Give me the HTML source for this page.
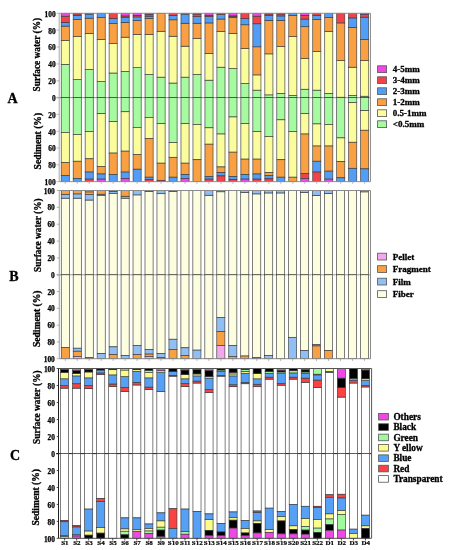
<!DOCTYPE html>
<html><head><meta charset="utf-8">
<style>
html,body{margin:0;padding:0;background:#fff;width:451px;height:550px;overflow:hidden}
svg{display:block;will-change:transform;filter:blur(0.3px)}
text{font-family:"Liberation Serif",serif;font-weight:bold;fill:#000;stroke:#000;stroke-width:0.3px}
.tk{font-size:7.4px;text-anchor:end;stroke-width:0.25px}
.at{font-size:9.35px;text-anchor:middle}
.at2{font-size:9.55px;text-anchor:middle}
.pl{font-size:14px;text-anchor:middle}
.xl{font-size:7px;text-anchor:middle;stroke-width:0.2px}
.lg{font-size:9px}
.lg3{font-size:9.3px}
</style></head><body>
<svg width="451" height="550" viewBox="0 0 451 550">
<rect width="451" height="550" fill="#ffffff"/>
<line x1="56.8" y1="97.65" x2="370.5" y2="97.65" stroke="#9a8a9a" stroke-width="1"/>
<rect x="61.2" y="64.33" width="8.1" height="33.32" fill="#a6faa0" stroke="#3a3a3a" stroke-width="0.65"/>
<rect x="61.2" y="40.46" width="8.1" height="23.87" fill="#fbfc9c" stroke="#3a3a3a" stroke-width="0.65"/>
<rect x="61.2" y="26.12" width="8.1" height="14.34" fill="#f9a142" stroke="#3a3a3a" stroke-width="0.65"/>
<rect x="61.2" y="22.33" width="8.1" height="3.8" fill="#529ef6" stroke="#3a3a3a" stroke-width="0.65"/>
<rect x="61.2" y="16.17" width="8.1" height="6.16" fill="#f4424a" stroke="#3a3a3a" stroke-width="0.65"/>
<rect x="61.2" y="13.3" width="8.1" height="2.87" fill="#f048e6" stroke="#3a3a3a" stroke-width="0.65"/>
<rect x="73.18" y="79.6" width="8.1" height="18.05" fill="#a6faa0" stroke="#3a3a3a" stroke-width="0.65"/>
<rect x="73.18" y="36.66" width="8.1" height="42.93" fill="#fbfc9c" stroke="#3a3a3a" stroke-width="0.65"/>
<rect x="73.18" y="19.46" width="8.1" height="17.21" fill="#f9a142" stroke="#3a3a3a" stroke-width="0.65"/>
<rect x="73.18" y="15.58" width="8.1" height="3.88" fill="#529ef6" stroke="#3a3a3a" stroke-width="0.65"/>
<rect x="73.18" y="13.89" width="8.1" height="1.69" fill="#f4424a" stroke="#3a3a3a" stroke-width="0.65"/>
<rect x="73.18" y="13.3" width="8.1" height="0.59" fill="#f048e6" stroke="#3a3a3a" stroke-width="0.65"/>
<rect x="85.16" y="69.48" width="8.1" height="28.17" fill="#a6faa0" stroke="#3a3a3a" stroke-width="0.65"/>
<rect x="85.16" y="33.38" width="8.1" height="36.1" fill="#fbfc9c" stroke="#3a3a3a" stroke-width="0.65"/>
<rect x="85.16" y="18.19" width="8.1" height="15.18" fill="#f9a142" stroke="#3a3a3a" stroke-width="0.65"/>
<rect x="85.16" y="14.06" width="8.1" height="4.13" fill="#529ef6" stroke="#3a3a3a" stroke-width="0.65"/>
<rect x="85.16" y="13.3" width="8.1" height="0.76" fill="#f4424a" stroke="#3a3a3a" stroke-width="0.65"/>
<rect x="97.13" y="81.54" width="8.1" height="16.11" fill="#a6faa0" stroke="#3a3a3a" stroke-width="0.65"/>
<rect x="97.13" y="39.53" width="8.1" height="42.01" fill="#fbfc9c" stroke="#3a3a3a" stroke-width="0.65"/>
<rect x="97.13" y="17.52" width="8.1" height="22.02" fill="#f9a142" stroke="#3a3a3a" stroke-width="0.65"/>
<rect x="97.13" y="13.3" width="8.1" height="4.22" fill="#529ef6" stroke="#3a3a3a" stroke-width="0.65"/>
<rect x="109.11" y="73.02" width="8.1" height="24.63" fill="#a6faa0" stroke="#3a3a3a" stroke-width="0.65"/>
<rect x="109.11" y="43.67" width="8.1" height="29.35" fill="#fbfc9c" stroke="#3a3a3a" stroke-width="0.65"/>
<rect x="109.11" y="23.59" width="8.1" height="20.08" fill="#f9a142" stroke="#3a3a3a" stroke-width="0.65"/>
<rect x="109.11" y="18.45" width="8.1" height="5.15" fill="#529ef6" stroke="#3a3a3a" stroke-width="0.65"/>
<rect x="109.11" y="13.3" width="8.1" height="5.15" fill="#f4424a" stroke="#3a3a3a" stroke-width="0.65"/>
<rect x="121.09" y="71.42" width="8.1" height="26.23" fill="#a6faa0" stroke="#3a3a3a" stroke-width="0.65"/>
<rect x="121.09" y="37.17" width="8.1" height="34.25" fill="#fbfc9c" stroke="#3a3a3a" stroke-width="0.65"/>
<rect x="121.09" y="22.33" width="8.1" height="14.85" fill="#f9a142" stroke="#3a3a3a" stroke-width="0.65"/>
<rect x="121.09" y="17.18" width="8.1" height="5.15" fill="#529ef6" stroke="#3a3a3a" stroke-width="0.65"/>
<rect x="121.09" y="15.91" width="8.1" height="1.27" fill="#f4424a" stroke="#3a3a3a" stroke-width="0.65"/>
<rect x="121.09" y="13.3" width="8.1" height="2.61" fill="#f048e6" stroke="#3a3a3a" stroke-width="0.65"/>
<rect x="133.07" y="67.62" width="8.1" height="30.03" fill="#a6faa0" stroke="#3a3a3a" stroke-width="0.65"/>
<rect x="133.07" y="34.39" width="8.1" height="33.23" fill="#fbfc9c" stroke="#3a3a3a" stroke-width="0.65"/>
<rect x="133.07" y="20.64" width="8.1" height="13.75" fill="#f9a142" stroke="#3a3a3a" stroke-width="0.65"/>
<rect x="133.07" y="16.93" width="8.1" height="3.71" fill="#529ef6" stroke="#3a3a3a" stroke-width="0.65"/>
<rect x="133.07" y="15.32" width="8.1" height="1.6" fill="#f4424a" stroke="#3a3a3a" stroke-width="0.65"/>
<rect x="133.07" y="13.3" width="8.1" height="2.02" fill="#f048e6" stroke="#3a3a3a" stroke-width="0.65"/>
<rect x="145.05" y="74.45" width="8.1" height="23.2" fill="#a6faa0" stroke="#3a3a3a" stroke-width="0.65"/>
<rect x="145.05" y="34.39" width="8.1" height="40.07" fill="#fbfc9c" stroke="#3a3a3a" stroke-width="0.65"/>
<rect x="145.05" y="18.36" width="8.1" height="16.03" fill="#f9a142" stroke="#3a3a3a" stroke-width="0.65"/>
<rect x="145.05" y="16.17" width="8.1" height="2.19" fill="#529ef6" stroke="#3a3a3a" stroke-width="0.65"/>
<rect x="145.05" y="14.31" width="8.1" height="1.86" fill="#f4424a" stroke="#3a3a3a" stroke-width="0.65"/>
<rect x="145.05" y="13.3" width="8.1" height="1.01" fill="#f048e6" stroke="#3a3a3a" stroke-width="0.65"/>
<rect x="157.02" y="77.15" width="8.1" height="20.5" fill="#a6faa0" stroke="#3a3a3a" stroke-width="0.65"/>
<rect x="157.02" y="31.27" width="8.1" height="45.89" fill="#fbfc9c" stroke="#3a3a3a" stroke-width="0.65"/>
<rect x="157.02" y="13.3" width="8.1" height="17.97" fill="#f9a142" stroke="#3a3a3a" stroke-width="0.65"/>
<rect x="169" y="83.06" width="8.1" height="14.59" fill="#a6faa0" stroke="#3a3a3a" stroke-width="0.65"/>
<rect x="169" y="36.24" width="8.1" height="46.81" fill="#fbfc9c" stroke="#3a3a3a" stroke-width="0.65"/>
<rect x="169" y="19.79" width="8.1" height="16.45" fill="#f9a142" stroke="#3a3a3a" stroke-width="0.65"/>
<rect x="169" y="15.41" width="8.1" height="4.39" fill="#529ef6" stroke="#3a3a3a" stroke-width="0.65"/>
<rect x="169" y="13.3" width="8.1" height="2.11" fill="#f4424a" stroke="#3a3a3a" stroke-width="0.65"/>
<rect x="180.98" y="77.15" width="8.1" height="20.5" fill="#a6faa0" stroke="#3a3a3a" stroke-width="0.65"/>
<rect x="180.98" y="46.2" width="8.1" height="30.96" fill="#fbfc9c" stroke="#3a3a3a" stroke-width="0.65"/>
<rect x="180.98" y="23.25" width="8.1" height="22.94" fill="#f9a142" stroke="#3a3a3a" stroke-width="0.65"/>
<rect x="180.98" y="14.06" width="8.1" height="9.19" fill="#529ef6" stroke="#3a3a3a" stroke-width="0.65"/>
<rect x="180.98" y="13.3" width="8.1" height="0.76" fill="#f4424a" stroke="#3a3a3a" stroke-width="0.65"/>
<rect x="192.96" y="74.45" width="8.1" height="23.2" fill="#a6faa0" stroke="#3a3a3a" stroke-width="0.65"/>
<rect x="192.96" y="38.6" width="8.1" height="35.85" fill="#fbfc9c" stroke="#3a3a3a" stroke-width="0.65"/>
<rect x="192.96" y="23.25" width="8.1" height="15.35" fill="#f9a142" stroke="#3a3a3a" stroke-width="0.65"/>
<rect x="192.96" y="16.59" width="8.1" height="6.66" fill="#529ef6" stroke="#3a3a3a" stroke-width="0.65"/>
<rect x="192.96" y="14.14" width="8.1" height="2.45" fill="#f4424a" stroke="#3a3a3a" stroke-width="0.65"/>
<rect x="192.96" y="13.3" width="8.1" height="0.84" fill="#f048e6" stroke="#3a3a3a" stroke-width="0.65"/>
<rect x="204.94" y="80.19" width="8.1" height="17.46" fill="#a6faa0" stroke="#3a3a3a" stroke-width="0.65"/>
<rect x="204.94" y="53.45" width="8.1" height="26.74" fill="#fbfc9c" stroke="#3a3a3a" stroke-width="0.65"/>
<rect x="204.94" y="22.92" width="8.1" height="30.53" fill="#f9a142" stroke="#3a3a3a" stroke-width="0.65"/>
<rect x="204.94" y="16.59" width="8.1" height="6.33" fill="#529ef6" stroke="#3a3a3a" stroke-width="0.65"/>
<rect x="204.94" y="15.24" width="8.1" height="1.35" fill="#f4424a" stroke="#3a3a3a" stroke-width="0.65"/>
<rect x="204.94" y="13.3" width="8.1" height="1.94" fill="#f048e6" stroke="#3a3a3a" stroke-width="0.65"/>
<rect x="216.91" y="67.2" width="8.1" height="30.45" fill="#a6faa0" stroke="#3a3a3a" stroke-width="0.65"/>
<rect x="216.91" y="31.52" width="8.1" height="35.68" fill="#fbfc9c" stroke="#3a3a3a" stroke-width="0.65"/>
<rect x="216.91" y="19.04" width="8.1" height="12.48" fill="#f9a142" stroke="#3a3a3a" stroke-width="0.65"/>
<rect x="216.91" y="14.65" width="8.1" height="4.39" fill="#529ef6" stroke="#3a3a3a" stroke-width="0.65"/>
<rect x="216.91" y="13.3" width="8.1" height="1.35" fill="#f4424a" stroke="#3a3a3a" stroke-width="0.65"/>
<rect x="228.89" y="68.55" width="8.1" height="29.1" fill="#a6faa0" stroke="#3a3a3a" stroke-width="0.65"/>
<rect x="228.89" y="33.38" width="8.1" height="35.17" fill="#fbfc9c" stroke="#3a3a3a" stroke-width="0.65"/>
<rect x="228.89" y="17.43" width="8.1" height="15.94" fill="#f9a142" stroke="#3a3a3a" stroke-width="0.65"/>
<rect x="228.89" y="16.34" width="8.1" height="1.1" fill="#529ef6" stroke="#3a3a3a" stroke-width="0.65"/>
<rect x="228.89" y="15.83" width="8.1" height="0.51" fill="#f4424a" stroke="#3a3a3a" stroke-width="0.65"/>
<rect x="228.89" y="13.3" width="8.1" height="2.53" fill="#f048e6" stroke="#3a3a3a" stroke-width="0.65"/>
<rect x="240.87" y="83.48" width="8.1" height="14.17" fill="#a6faa0" stroke="#3a3a3a" stroke-width="0.65"/>
<rect x="240.87" y="48.64" width="8.1" height="34.84" fill="#fbfc9c" stroke="#3a3a3a" stroke-width="0.65"/>
<rect x="240.87" y="24.77" width="8.1" height="23.87" fill="#f9a142" stroke="#3a3a3a" stroke-width="0.65"/>
<rect x="240.87" y="18.53" width="8.1" height="6.24" fill="#529ef6" stroke="#3a3a3a" stroke-width="0.65"/>
<rect x="240.87" y="13.3" width="8.1" height="5.23" fill="#f4424a" stroke="#3a3a3a" stroke-width="0.65"/>
<rect x="252.85" y="90.14" width="8.1" height="7.51" fill="#a6faa0" stroke="#3a3a3a" stroke-width="0.65"/>
<rect x="252.85" y="74.88" width="8.1" height="15.27" fill="#fbfc9c" stroke="#3a3a3a" stroke-width="0.65"/>
<rect x="252.85" y="46.79" width="8.1" height="28.09" fill="#f9a142" stroke="#3a3a3a" stroke-width="0.65"/>
<rect x="252.85" y="23.76" width="8.1" height="23.03" fill="#529ef6" stroke="#3a3a3a" stroke-width="0.65"/>
<rect x="252.85" y="16.17" width="8.1" height="7.59" fill="#f4424a" stroke="#3a3a3a" stroke-width="0.65"/>
<rect x="252.85" y="13.3" width="8.1" height="2.87" fill="#f048e6" stroke="#3a3a3a" stroke-width="0.65"/>
<rect x="264.83" y="94.87" width="8.1" height="2.78" fill="#a6faa0" stroke="#3a3a3a" stroke-width="0.65"/>
<rect x="264.83" y="53.87" width="8.1" height="40.99" fill="#fbfc9c" stroke="#3a3a3a" stroke-width="0.65"/>
<rect x="264.83" y="20.39" width="8.1" height="33.49" fill="#f9a142" stroke="#3a3a3a" stroke-width="0.65"/>
<rect x="264.83" y="15.66" width="8.1" height="4.72" fill="#529ef6" stroke="#3a3a3a" stroke-width="0.65"/>
<rect x="264.83" y="13.97" width="8.1" height="1.69" fill="#f4424a" stroke="#3a3a3a" stroke-width="0.65"/>
<rect x="264.83" y="13.3" width="8.1" height="0.67" fill="#f048e6" stroke="#3a3a3a" stroke-width="0.65"/>
<rect x="276.8" y="93.35" width="8.1" height="4.3" fill="#a6faa0" stroke="#3a3a3a" stroke-width="0.65"/>
<rect x="276.8" y="46.62" width="8.1" height="46.73" fill="#fbfc9c" stroke="#3a3a3a" stroke-width="0.65"/>
<rect x="276.8" y="20.39" width="8.1" height="26.23" fill="#f9a142" stroke="#3a3a3a" stroke-width="0.65"/>
<rect x="276.8" y="15.91" width="8.1" height="4.47" fill="#529ef6" stroke="#3a3a3a" stroke-width="0.65"/>
<rect x="276.8" y="13.97" width="8.1" height="1.94" fill="#f4424a" stroke="#3a3a3a" stroke-width="0.65"/>
<rect x="276.8" y="13.3" width="8.1" height="0.67" fill="#f048e6" stroke="#3a3a3a" stroke-width="0.65"/>
<rect x="288.78" y="95.46" width="8.1" height="2.19" fill="#a6faa0" stroke="#3a3a3a" stroke-width="0.65"/>
<rect x="288.78" y="36.66" width="8.1" height="58.79" fill="#fbfc9c" stroke="#3a3a3a" stroke-width="0.65"/>
<rect x="288.78" y="15.41" width="8.1" height="21.26" fill="#f9a142" stroke="#3a3a3a" stroke-width="0.65"/>
<rect x="288.78" y="13.3" width="8.1" height="2.11" fill="#529ef6" stroke="#3a3a3a" stroke-width="0.65"/>
<rect x="300.76" y="89.22" width="8.1" height="8.44" fill="#a6faa0" stroke="#3a3a3a" stroke-width="0.65"/>
<rect x="300.76" y="58.6" width="8.1" height="30.62" fill="#fbfc9c" stroke="#3a3a3a" stroke-width="0.65"/>
<rect x="300.76" y="26.71" width="8.1" height="31.88" fill="#f9a142" stroke="#3a3a3a" stroke-width="0.65"/>
<rect x="300.76" y="19.04" width="8.1" height="7.68" fill="#529ef6" stroke="#3a3a3a" stroke-width="0.65"/>
<rect x="300.76" y="15.41" width="8.1" height="3.63" fill="#f4424a" stroke="#3a3a3a" stroke-width="0.65"/>
<rect x="300.76" y="13.3" width="8.1" height="2.11" fill="#f048e6" stroke="#3a3a3a" stroke-width="0.65"/>
<rect x="312.74" y="90.14" width="8.1" height="7.51" fill="#a6faa0" stroke="#3a3a3a" stroke-width="0.65"/>
<rect x="312.74" y="51.51" width="8.1" height="38.63" fill="#fbfc9c" stroke="#3a3a3a" stroke-width="0.65"/>
<rect x="312.74" y="19.46" width="8.1" height="32.05" fill="#f9a142" stroke="#3a3a3a" stroke-width="0.65"/>
<rect x="312.74" y="15.24" width="8.1" height="4.22" fill="#529ef6" stroke="#3a3a3a" stroke-width="0.65"/>
<rect x="312.74" y="13.3" width="8.1" height="1.94" fill="#f4424a" stroke="#3a3a3a" stroke-width="0.65"/>
<rect x="324.72" y="93.35" width="8.1" height="4.3" fill="#a6faa0" stroke="#3a3a3a" stroke-width="0.65"/>
<rect x="324.72" y="31.27" width="8.1" height="62.08" fill="#fbfc9c" stroke="#3a3a3a" stroke-width="0.65"/>
<rect x="324.72" y="17.52" width="8.1" height="13.75" fill="#f9a142" stroke="#3a3a3a" stroke-width="0.65"/>
<rect x="324.72" y="13.3" width="8.1" height="4.22" fill="#529ef6" stroke="#3a3a3a" stroke-width="0.65"/>
<rect x="336.69" y="97.23" width="8.1" height="0.42" fill="#a6faa0" stroke="#3a3a3a" stroke-width="0.65"/>
<rect x="336.69" y="60.54" width="8.1" height="36.69" fill="#fbfc9c" stroke="#3a3a3a" stroke-width="0.65"/>
<rect x="336.69" y="22.92" width="8.1" height="37.62" fill="#f9a142" stroke="#3a3a3a" stroke-width="0.65"/>
<rect x="336.69" y="13.3" width="8.1" height="9.62" fill="#f4424a" stroke="#3a3a3a" stroke-width="0.65"/>
<rect x="348.67" y="95.46" width="8.1" height="2.19" fill="#a6faa0" stroke="#3a3a3a" stroke-width="0.65"/>
<rect x="348.67" y="67.2" width="8.1" height="28.26" fill="#fbfc9c" stroke="#3a3a3a" stroke-width="0.65"/>
<rect x="348.67" y="27.47" width="8.1" height="39.73" fill="#f9a142" stroke="#3a3a3a" stroke-width="0.65"/>
<rect x="348.67" y="17.94" width="8.1" height="9.53" fill="#529ef6" stroke="#3a3a3a" stroke-width="0.65"/>
<rect x="348.67" y="13.3" width="8.1" height="4.64" fill="#f4424a" stroke="#3a3a3a" stroke-width="0.65"/>
<rect x="360.65" y="96.22" width="8.1" height="1.43" fill="#a6faa0" stroke="#3a3a3a" stroke-width="0.65"/>
<rect x="360.65" y="60.54" width="8.1" height="35.68" fill="#fbfc9c" stroke="#3a3a3a" stroke-width="0.65"/>
<rect x="360.65" y="39.53" width="8.1" height="21" fill="#f9a142" stroke="#3a3a3a" stroke-width="0.65"/>
<rect x="360.65" y="17.18" width="8.1" height="22.35" fill="#529ef6" stroke="#3a3a3a" stroke-width="0.65"/>
<rect x="360.65" y="14.65" width="8.1" height="2.53" fill="#f4424a" stroke="#3a3a3a" stroke-width="0.65"/>
<rect x="360.65" y="13.3" width="8.1" height="1.35" fill="#f048e6" stroke="#3a3a3a" stroke-width="0.65"/>
<rect x="61.2" y="97.65" width="8.1" height="34.86" fill="#a6faa0" stroke="#3a3a3a" stroke-width="0.65"/>
<rect x="61.2" y="132.51" width="8.1" height="30.07" fill="#fbfc9c" stroke="#3a3a3a" stroke-width="0.65"/>
<rect x="61.2" y="162.58" width="8.1" height="12.77" fill="#f9a142" stroke="#3a3a3a" stroke-width="0.65"/>
<rect x="61.2" y="175.35" width="8.1" height="6.3" fill="#529ef6" stroke="#3a3a3a" stroke-width="0.65"/>
<rect x="73.18" y="97.65" width="8.1" height="36.96" fill="#a6faa0" stroke="#3a3a3a" stroke-width="0.65"/>
<rect x="73.18" y="134.61" width="8.1" height="26.63" fill="#fbfc9c" stroke="#3a3a3a" stroke-width="0.65"/>
<rect x="73.18" y="161.24" width="8.1" height="17.14" fill="#f9a142" stroke="#3a3a3a" stroke-width="0.65"/>
<rect x="73.18" y="178.37" width="8.1" height="3.28" fill="#529ef6" stroke="#3a3a3a" stroke-width="0.65"/>
<rect x="85.16" y="97.65" width="8.1" height="33.94" fill="#a6faa0" stroke="#3a3a3a" stroke-width="0.65"/>
<rect x="85.16" y="131.59" width="8.1" height="27.22" fill="#fbfc9c" stroke="#3a3a3a" stroke-width="0.65"/>
<rect x="85.16" y="158.8" width="8.1" height="13.27" fill="#f9a142" stroke="#3a3a3a" stroke-width="0.65"/>
<rect x="85.16" y="172.07" width="8.1" height="7.06" fill="#529ef6" stroke="#3a3a3a" stroke-width="0.65"/>
<rect x="85.16" y="179.13" width="8.1" height="2.52" fill="#f4424a" stroke="#3a3a3a" stroke-width="0.65"/>
<rect x="97.13" y="97.65" width="8.1" height="16.04" fill="#a6faa0" stroke="#3a3a3a" stroke-width="0.65"/>
<rect x="97.13" y="113.69" width="8.1" height="52.67" fill="#fbfc9c" stroke="#3a3a3a" stroke-width="0.65"/>
<rect x="97.13" y="166.36" width="8.1" height="7.64" fill="#f9a142" stroke="#3a3a3a" stroke-width="0.65"/>
<rect x="97.13" y="174.01" width="8.1" height="5.12" fill="#529ef6" stroke="#3a3a3a" stroke-width="0.65"/>
<rect x="97.13" y="179.13" width="8.1" height="2.52" fill="#f048e6" stroke="#3a3a3a" stroke-width="0.65"/>
<rect x="109.11" y="97.65" width="8.1" height="24.02" fill="#a6faa0" stroke="#3a3a3a" stroke-width="0.65"/>
<rect x="109.11" y="121.67" width="8.1" height="31.42" fill="#fbfc9c" stroke="#3a3a3a" stroke-width="0.65"/>
<rect x="109.11" y="153.09" width="8.1" height="21.5" fill="#f9a142" stroke="#3a3a3a" stroke-width="0.65"/>
<rect x="109.11" y="174.59" width="8.1" height="7.06" fill="#529ef6" stroke="#3a3a3a" stroke-width="0.65"/>
<rect x="121.09" y="97.65" width="8.1" height="14.11" fill="#a6faa0" stroke="#3a3a3a" stroke-width="0.65"/>
<rect x="121.09" y="111.76" width="8.1" height="39.4" fill="#fbfc9c" stroke="#3a3a3a" stroke-width="0.65"/>
<rect x="121.09" y="151.16" width="8.1" height="20.92" fill="#f9a142" stroke="#3a3a3a" stroke-width="0.65"/>
<rect x="121.09" y="172.07" width="8.1" height="6.3" fill="#529ef6" stroke="#3a3a3a" stroke-width="0.65"/>
<rect x="121.09" y="178.37" width="8.1" height="3.28" fill="#f048e6" stroke="#3a3a3a" stroke-width="0.65"/>
<rect x="133.07" y="97.65" width="8.1" height="29.74" fill="#a6faa0" stroke="#3a3a3a" stroke-width="0.65"/>
<rect x="133.07" y="127.39" width="8.1" height="27.05" fill="#fbfc9c" stroke="#3a3a3a" stroke-width="0.65"/>
<rect x="133.07" y="154.43" width="8.1" height="14.78" fill="#f9a142" stroke="#3a3a3a" stroke-width="0.65"/>
<rect x="133.07" y="169.22" width="8.1" height="12.43" fill="#529ef6" stroke="#3a3a3a" stroke-width="0.65"/>
<rect x="145.05" y="97.65" width="8.1" height="19.82" fill="#a6faa0" stroke="#3a3a3a" stroke-width="0.65"/>
<rect x="145.05" y="117.47" width="8.1" height="21" fill="#fbfc9c" stroke="#3a3a3a" stroke-width="0.65"/>
<rect x="145.05" y="138.47" width="8.1" height="38.72" fill="#f9a142" stroke="#3a3a3a" stroke-width="0.65"/>
<rect x="145.05" y="177.2" width="8.1" height="2.52" fill="#529ef6" stroke="#3a3a3a" stroke-width="0.65"/>
<rect x="145.05" y="179.72" width="8.1" height="1.93" fill="#f4424a" stroke="#3a3a3a" stroke-width="0.65"/>
<rect x="157.02" y="97.65" width="8.1" height="25.96" fill="#a6faa0" stroke="#3a3a3a" stroke-width="0.65"/>
<rect x="157.02" y="123.61" width="8.1" height="39.56" fill="#fbfc9c" stroke="#3a3a3a" stroke-width="0.65"/>
<rect x="157.02" y="163.17" width="8.1" height="17.14" fill="#f9a142" stroke="#3a3a3a" stroke-width="0.65"/>
<rect x="157.02" y="180.31" width="8.1" height="1.34" fill="#f4424a" stroke="#3a3a3a" stroke-width="0.65"/>
<rect x="169" y="97.65" width="8.1" height="44.94" fill="#a6faa0" stroke="#3a3a3a" stroke-width="0.65"/>
<rect x="169" y="142.59" width="8.1" height="14.7" fill="#fbfc9c" stroke="#3a3a3a" stroke-width="0.65"/>
<rect x="169" y="157.29" width="8.1" height="19.91" fill="#f9a142" stroke="#3a3a3a" stroke-width="0.65"/>
<rect x="169" y="177.2" width="8.1" height="4.45" fill="#529ef6" stroke="#3a3a3a" stroke-width="0.65"/>
<rect x="180.98" y="97.65" width="8.1" height="25.96" fill="#a6faa0" stroke="#3a3a3a" stroke-width="0.65"/>
<rect x="180.98" y="123.61" width="8.1" height="39.56" fill="#fbfc9c" stroke="#3a3a3a" stroke-width="0.65"/>
<rect x="180.98" y="163.17" width="8.1" height="11.42" fill="#f9a142" stroke="#3a3a3a" stroke-width="0.65"/>
<rect x="180.98" y="174.59" width="8.1" height="3.78" fill="#529ef6" stroke="#3a3a3a" stroke-width="0.65"/>
<rect x="180.98" y="178.37" width="8.1" height="3.28" fill="#f048e6" stroke="#3a3a3a" stroke-width="0.65"/>
<rect x="192.96" y="97.65" width="8.1" height="26.88" fill="#a6faa0" stroke="#3a3a3a" stroke-width="0.65"/>
<rect x="192.96" y="124.53" width="8.1" height="35.2" fill="#fbfc9c" stroke="#3a3a3a" stroke-width="0.65"/>
<rect x="192.96" y="159.73" width="8.1" height="21.92" fill="#f9a142" stroke="#3a3a3a" stroke-width="0.65"/>
<rect x="204.94" y="97.65" width="8.1" height="30.16" fill="#a6faa0" stroke="#3a3a3a" stroke-width="0.65"/>
<rect x="204.94" y="127.81" width="8.1" height="16.38" fill="#fbfc9c" stroke="#3a3a3a" stroke-width="0.65"/>
<rect x="204.94" y="144.19" width="8.1" height="32.26" fill="#f9a142" stroke="#3a3a3a" stroke-width="0.65"/>
<rect x="204.94" y="176.44" width="8.1" height="2.69" fill="#529ef6" stroke="#3a3a3a" stroke-width="0.65"/>
<rect x="204.94" y="179.13" width="8.1" height="2.52" fill="#f4424a" stroke="#3a3a3a" stroke-width="0.65"/>
<rect x="216.91" y="97.65" width="8.1" height="36.37" fill="#a6faa0" stroke="#3a3a3a" stroke-width="0.65"/>
<rect x="216.91" y="134.02" width="8.1" height="32.93" fill="#fbfc9c" stroke="#3a3a3a" stroke-width="0.65"/>
<rect x="216.91" y="166.95" width="8.1" height="5.71" fill="#f9a142" stroke="#3a3a3a" stroke-width="0.65"/>
<rect x="216.91" y="172.66" width="8.1" height="3.28" fill="#529ef6" stroke="#3a3a3a" stroke-width="0.65"/>
<rect x="216.91" y="175.94" width="8.1" height="5.71" fill="#f4424a" stroke="#3a3a3a" stroke-width="0.65"/>
<rect x="228.89" y="97.65" width="8.1" height="19.32" fill="#a6faa0" stroke="#3a3a3a" stroke-width="0.65"/>
<rect x="228.89" y="116.97" width="8.1" height="35.2" fill="#fbfc9c" stroke="#3a3a3a" stroke-width="0.65"/>
<rect x="228.89" y="152.17" width="8.1" height="24.28" fill="#f9a142" stroke="#3a3a3a" stroke-width="0.65"/>
<rect x="228.89" y="176.44" width="8.1" height="3.28" fill="#529ef6" stroke="#3a3a3a" stroke-width="0.65"/>
<rect x="228.89" y="179.72" width="8.1" height="1.93" fill="#f4424a" stroke="#3a3a3a" stroke-width="0.65"/>
<rect x="240.87" y="97.65" width="8.1" height="25.96" fill="#a6faa0" stroke="#3a3a3a" stroke-width="0.65"/>
<rect x="240.87" y="123.61" width="8.1" height="35.53" fill="#fbfc9c" stroke="#3a3a3a" stroke-width="0.65"/>
<rect x="240.87" y="159.14" width="8.1" height="15.46" fill="#f9a142" stroke="#3a3a3a" stroke-width="0.65"/>
<rect x="240.87" y="174.59" width="8.1" height="4.54" fill="#529ef6" stroke="#3a3a3a" stroke-width="0.65"/>
<rect x="240.87" y="179.13" width="8.1" height="2.52" fill="#f048e6" stroke="#3a3a3a" stroke-width="0.65"/>
<rect x="252.85" y="97.65" width="8.1" height="33.94" fill="#a6faa0" stroke="#3a3a3a" stroke-width="0.65"/>
<rect x="252.85" y="131.59" width="8.1" height="27.55" fill="#fbfc9c" stroke="#3a3a3a" stroke-width="0.65"/>
<rect x="252.85" y="159.14" width="8.1" height="14.87" fill="#f9a142" stroke="#3a3a3a" stroke-width="0.65"/>
<rect x="252.85" y="174.01" width="8.1" height="5.12" fill="#529ef6" stroke="#3a3a3a" stroke-width="0.65"/>
<rect x="252.85" y="179.13" width="8.1" height="2.52" fill="#f4424a" stroke="#3a3a3a" stroke-width="0.65"/>
<rect x="264.83" y="97.65" width="8.1" height="38.89" fill="#a6faa0" stroke="#3a3a3a" stroke-width="0.65"/>
<rect x="264.83" y="136.54" width="8.1" height="36.12" fill="#fbfc9c" stroke="#3a3a3a" stroke-width="0.65"/>
<rect x="264.83" y="172.66" width="8.1" height="2.69" fill="#f9a142" stroke="#3a3a3a" stroke-width="0.65"/>
<rect x="264.83" y="175.35" width="8.1" height="3.44" fill="#529ef6" stroke="#3a3a3a" stroke-width="0.65"/>
<rect x="264.83" y="178.79" width="8.1" height="2.86" fill="#f4424a" stroke="#3a3a3a" stroke-width="0.65"/>
<rect x="276.8" y="97.65" width="8.1" height="22.18" fill="#a6faa0" stroke="#3a3a3a" stroke-width="0.65"/>
<rect x="276.8" y="119.83" width="8.1" height="39.9" fill="#fbfc9c" stroke="#3a3a3a" stroke-width="0.65"/>
<rect x="276.8" y="159.73" width="8.1" height="17.47" fill="#f9a142" stroke="#3a3a3a" stroke-width="0.65"/>
<rect x="276.8" y="177.2" width="8.1" height="4.45" fill="#529ef6" stroke="#3a3a3a" stroke-width="0.65"/>
<rect x="288.78" y="97.65" width="8.1" height="33.94" fill="#a6faa0" stroke="#3a3a3a" stroke-width="0.65"/>
<rect x="288.78" y="131.59" width="8.1" height="45.61" fill="#fbfc9c" stroke="#3a3a3a" stroke-width="0.65"/>
<rect x="288.78" y="177.2" width="8.1" height="4.45" fill="#f9a142" stroke="#3a3a3a" stroke-width="0.65"/>
<rect x="300.76" y="97.65" width="8.1" height="16.04" fill="#a6faa0" stroke="#3a3a3a" stroke-width="0.65"/>
<rect x="300.76" y="113.69" width="8.1" height="20.33" fill="#fbfc9c" stroke="#3a3a3a" stroke-width="0.65"/>
<rect x="300.76" y="134.02" width="8.1" height="39.4" fill="#f9a142" stroke="#3a3a3a" stroke-width="0.65"/>
<rect x="300.76" y="173.42" width="8.1" height="4.96" fill="#f4424a" stroke="#3a3a3a" stroke-width="0.65"/>
<rect x="300.76" y="178.37" width="8.1" height="3.28" fill="#f048e6" stroke="#3a3a3a" stroke-width="0.65"/>
<rect x="312.74" y="97.65" width="8.1" height="26.29" fill="#a6faa0" stroke="#3a3a3a" stroke-width="0.65"/>
<rect x="312.74" y="123.94" width="8.1" height="22.09" fill="#fbfc9c" stroke="#3a3a3a" stroke-width="0.65"/>
<rect x="312.74" y="146.03" width="8.1" height="15.2" fill="#f9a142" stroke="#3a3a3a" stroke-width="0.65"/>
<rect x="312.74" y="161.24" width="8.1" height="10.84" fill="#529ef6" stroke="#3a3a3a" stroke-width="0.65"/>
<rect x="312.74" y="172.07" width="8.1" height="9.58" fill="#f4424a" stroke="#3a3a3a" stroke-width="0.65"/>
<rect x="324.72" y="97.65" width="8.1" height="26.88" fill="#a6faa0" stroke="#3a3a3a" stroke-width="0.65"/>
<rect x="324.72" y="124.53" width="8.1" height="21.5" fill="#fbfc9c" stroke="#3a3a3a" stroke-width="0.65"/>
<rect x="324.72" y="146.03" width="8.1" height="25.12" fill="#f9a142" stroke="#3a3a3a" stroke-width="0.65"/>
<rect x="324.72" y="171.15" width="8.1" height="7.98" fill="#529ef6" stroke="#3a3a3a" stroke-width="0.65"/>
<rect x="324.72" y="179.13" width="8.1" height="2.52" fill="#f048e6" stroke="#3a3a3a" stroke-width="0.65"/>
<rect x="336.69" y="97.65" width="8.1" height="40.24" fill="#a6faa0" stroke="#3a3a3a" stroke-width="0.65"/>
<rect x="336.69" y="137.89" width="8.1" height="23.77" fill="#fbfc9c" stroke="#3a3a3a" stroke-width="0.65"/>
<rect x="336.69" y="161.66" width="8.1" height="16.13" fill="#f9a142" stroke="#3a3a3a" stroke-width="0.65"/>
<rect x="336.69" y="177.79" width="8.1" height="3.86" fill="#529ef6" stroke="#3a3a3a" stroke-width="0.65"/>
<rect x="348.67" y="97.65" width="8.1" height="5.04" fill="#a6faa0" stroke="#3a3a3a" stroke-width="0.65"/>
<rect x="348.67" y="102.69" width="8.1" height="39.56" fill="#fbfc9c" stroke="#3a3a3a" stroke-width="0.65"/>
<rect x="348.67" y="142.25" width="8.1" height="26.04" fill="#f9a142" stroke="#3a3a3a" stroke-width="0.65"/>
<rect x="348.67" y="168.29" width="8.1" height="13.36" fill="#529ef6" stroke="#3a3a3a" stroke-width="0.65"/>
<rect x="360.65" y="97.65" width="8.1" height="13.02" fill="#a6faa0" stroke="#3a3a3a" stroke-width="0.65"/>
<rect x="360.65" y="110.67" width="8.1" height="19.57" fill="#fbfc9c" stroke="#3a3a3a" stroke-width="0.65"/>
<rect x="360.65" y="130.24" width="8.1" height="38.64" fill="#f9a142" stroke="#3a3a3a" stroke-width="0.65"/>
<rect x="360.65" y="168.88" width="8.1" height="12.77" fill="#529ef6" stroke="#3a3a3a" stroke-width="0.65"/>
<path d="M59.2 13.3H370.5V181.65H59.2" fill="none" stroke="#909090" stroke-width="1"/>
<line x1="59.2" y1="13.3" x2="59.2" y2="181.65" stroke="#a8a8a8" stroke-width="1"/>
<line x1="56.6" y1="97.65" x2="59.2" y2="97.65" stroke="#a8a8a8" stroke-width="0.8"/>
<line x1="56.6" y1="97.65" x2="59.2" y2="97.65" stroke="#a8a8a8" stroke-width="0.8"/>
<line x1="56.6" y1="80.78" x2="59.2" y2="80.78" stroke="#a8a8a8" stroke-width="0.8"/>
<line x1="56.6" y1="114.45" x2="59.2" y2="114.45" stroke="#a8a8a8" stroke-width="0.8"/>
<line x1="56.6" y1="63.91" x2="59.2" y2="63.91" stroke="#a8a8a8" stroke-width="0.8"/>
<line x1="56.6" y1="131.25" x2="59.2" y2="131.25" stroke="#a8a8a8" stroke-width="0.8"/>
<line x1="56.6" y1="47.04" x2="59.2" y2="47.04" stroke="#a8a8a8" stroke-width="0.8"/>
<line x1="56.6" y1="148.05" x2="59.2" y2="148.05" stroke="#a8a8a8" stroke-width="0.8"/>
<line x1="56.6" y1="30.17" x2="59.2" y2="30.17" stroke="#a8a8a8" stroke-width="0.8"/>
<line x1="56.6" y1="164.85" x2="59.2" y2="164.85" stroke="#a8a8a8" stroke-width="0.8"/>
<line x1="56.6" y1="13.3" x2="59.2" y2="13.3" stroke="#a8a8a8" stroke-width="0.8"/>
<line x1="56.6" y1="181.65" x2="59.2" y2="181.65" stroke="#a8a8a8" stroke-width="0.8"/>
<text x="55.6" y="101.05" class="tk">0</text>
<text x="55.6" y="84.18" class="tk">20</text>
<text x="55.6" y="117.85" class="tk">20</text>
<text x="55.6" y="67.31" class="tk">40</text>
<text x="55.6" y="134.65" class="tk">40</text>
<text x="55.6" y="50.44" class="tk">60</text>
<text x="55.6" y="151.45" class="tk">60</text>
<text x="55.6" y="33.57" class="tk">80</text>
<text x="55.6" y="168.25" class="tk">80</text>
<text x="55.6" y="16.7" class="tk">100</text>
<text x="55.6" y="185.05" class="tk">100</text>
<line x1="65.25" y1="181.65" x2="65.25" y2="183.85" stroke="#a8a8a8" stroke-width="0.8"/>
<line x1="77.23" y1="181.65" x2="77.23" y2="183.85" stroke="#a8a8a8" stroke-width="0.8"/>
<line x1="89.21" y1="181.65" x2="89.21" y2="183.85" stroke="#a8a8a8" stroke-width="0.8"/>
<line x1="101.18" y1="181.65" x2="101.18" y2="183.85" stroke="#a8a8a8" stroke-width="0.8"/>
<line x1="113.16" y1="181.65" x2="113.16" y2="183.85" stroke="#a8a8a8" stroke-width="0.8"/>
<line x1="125.14" y1="181.65" x2="125.14" y2="183.85" stroke="#a8a8a8" stroke-width="0.8"/>
<line x1="137.12" y1="181.65" x2="137.12" y2="183.85" stroke="#a8a8a8" stroke-width="0.8"/>
<line x1="149.1" y1="181.65" x2="149.1" y2="183.85" stroke="#a8a8a8" stroke-width="0.8"/>
<line x1="161.07" y1="181.65" x2="161.07" y2="183.85" stroke="#a8a8a8" stroke-width="0.8"/>
<line x1="173.05" y1="181.65" x2="173.05" y2="183.85" stroke="#a8a8a8" stroke-width="0.8"/>
<line x1="185.03" y1="181.65" x2="185.03" y2="183.85" stroke="#a8a8a8" stroke-width="0.8"/>
<line x1="197.01" y1="181.65" x2="197.01" y2="183.85" stroke="#a8a8a8" stroke-width="0.8"/>
<line x1="208.99" y1="181.65" x2="208.99" y2="183.85" stroke="#a8a8a8" stroke-width="0.8"/>
<line x1="220.96" y1="181.65" x2="220.96" y2="183.85" stroke="#a8a8a8" stroke-width="0.8"/>
<line x1="232.94" y1="181.65" x2="232.94" y2="183.85" stroke="#a8a8a8" stroke-width="0.8"/>
<line x1="244.92" y1="181.65" x2="244.92" y2="183.85" stroke="#a8a8a8" stroke-width="0.8"/>
<line x1="256.9" y1="181.65" x2="256.9" y2="183.85" stroke="#a8a8a8" stroke-width="0.8"/>
<line x1="268.88" y1="181.65" x2="268.88" y2="183.85" stroke="#a8a8a8" stroke-width="0.8"/>
<line x1="280.85" y1="181.65" x2="280.85" y2="183.85" stroke="#a8a8a8" stroke-width="0.8"/>
<line x1="292.83" y1="181.65" x2="292.83" y2="183.85" stroke="#a8a8a8" stroke-width="0.8"/>
<line x1="304.81" y1="181.65" x2="304.81" y2="183.85" stroke="#a8a8a8" stroke-width="0.8"/>
<line x1="316.79" y1="181.65" x2="316.79" y2="183.85" stroke="#a8a8a8" stroke-width="0.8"/>
<line x1="328.77" y1="181.65" x2="328.77" y2="183.85" stroke="#a8a8a8" stroke-width="0.8"/>
<line x1="340.74" y1="181.65" x2="340.74" y2="183.85" stroke="#a8a8a8" stroke-width="0.8"/>
<line x1="352.72" y1="181.65" x2="352.72" y2="183.85" stroke="#a8a8a8" stroke-width="0.8"/>
<line x1="364.7" y1="181.65" x2="364.7" y2="183.85" stroke="#a8a8a8" stroke-width="0.8"/>
<text class="at" transform="translate(40.3,54.65) rotate(-90)">Surface water (%)</text>
<text class="at2" transform="translate(40.75,141.15) rotate(-90)">Sediment (%)</text>
<line x1="56.85" y1="274.8" x2="370.5" y2="274.8" stroke="#9a9a8a" stroke-width="1"/>
<rect x="61.25" y="198.17" width="8.1" height="76.63" fill="#fdfde0" stroke="#3a3a3a" stroke-width="0.65"/>
<rect x="61.25" y="194.29" width="8.1" height="3.88" fill="#90bff4" stroke="#3a3a3a" stroke-width="0.65"/>
<rect x="61.25" y="190.5" width="8.1" height="3.79" fill="#f8a042" stroke="#3a3a3a" stroke-width="0.65"/>
<rect x="73.21" y="198.17" width="8.1" height="76.63" fill="#fdfde0" stroke="#3a3a3a" stroke-width="0.65"/>
<rect x="73.21" y="193.87" width="8.1" height="4.3" fill="#90bff4" stroke="#3a3a3a" stroke-width="0.65"/>
<rect x="73.21" y="190.5" width="8.1" height="3.37" fill="#f8a042" stroke="#3a3a3a" stroke-width="0.65"/>
<rect x="85.18" y="200.03" width="8.1" height="74.77" fill="#fdfde0" stroke="#3a3a3a" stroke-width="0.65"/>
<rect x="85.18" y="194.63" width="8.1" height="5.4" fill="#90bff4" stroke="#3a3a3a" stroke-width="0.65"/>
<rect x="85.18" y="191.85" width="8.1" height="2.78" fill="#f8a042" stroke="#3a3a3a" stroke-width="0.65"/>
<rect x="85.18" y="190.5" width="8.1" height="1.35" fill="#f4a8ec" stroke="#3a3a3a" stroke-width="0.65"/>
<rect x="97.14" y="195.22" width="8.1" height="79.58" fill="#fdfde0" stroke="#3a3a3a" stroke-width="0.65"/>
<rect x="97.14" y="194.21" width="8.1" height="1.01" fill="#90bff4" stroke="#3a3a3a" stroke-width="0.65"/>
<rect x="97.14" y="190.5" width="8.1" height="3.71" fill="#f8a042" stroke="#3a3a3a" stroke-width="0.65"/>
<rect x="109.11" y="193.28" width="8.1" height="81.52" fill="#fdfde0" stroke="#3a3a3a" stroke-width="0.65"/>
<rect x="109.11" y="191.34" width="8.1" height="1.94" fill="#90bff4" stroke="#3a3a3a" stroke-width="0.65"/>
<rect x="109.11" y="190.5" width="8.1" height="0.84" fill="#f8a042" stroke="#3a3a3a" stroke-width="0.65"/>
<rect x="121.07" y="198.17" width="8.1" height="76.63" fill="#fdfde0" stroke="#3a3a3a" stroke-width="0.65"/>
<rect x="121.07" y="196.23" width="8.1" height="1.94" fill="#90bff4" stroke="#3a3a3a" stroke-width="0.65"/>
<rect x="121.07" y="190.5" width="8.1" height="5.73" fill="#f8a042" stroke="#3a3a3a" stroke-width="0.65"/>
<rect x="133.03" y="194.88" width="8.1" height="79.92" fill="#fdfde0" stroke="#3a3a3a" stroke-width="0.65"/>
<rect x="133.03" y="190.5" width="8.1" height="4.38" fill="#90bff4" stroke="#3a3a3a" stroke-width="0.65"/>
<rect x="145" y="191.34" width="8.1" height="83.46" fill="#fdfde0" stroke="#3a3a3a" stroke-width="0.65"/>
<rect x="145" y="190.5" width="8.1" height="0.84" fill="#90bff4" stroke="#3a3a3a" stroke-width="0.65"/>
<rect x="156.96" y="193.7" width="8.1" height="81.1" fill="#fdfde0" stroke="#3a3a3a" stroke-width="0.65"/>
<rect x="156.96" y="190.5" width="8.1" height="3.2" fill="#90bff4" stroke="#3a3a3a" stroke-width="0.65"/>
<rect x="168.93" y="191.43" width="8.1" height="83.37" fill="#fdfde0" stroke="#3a3a3a" stroke-width="0.65"/>
<rect x="168.93" y="190.5" width="8.1" height="0.93" fill="#f8a042" stroke="#3a3a3a" stroke-width="0.65"/>
<rect x="180.89" y="190.5" width="8.1" height="84.3" fill="#fdfde0" stroke="#3a3a3a" stroke-width="0.65"/>
<rect x="192.85" y="190.5" width="8.1" height="84.3" fill="#fdfde0" stroke="#3a3a3a" stroke-width="0.65"/>
<rect x="204.82" y="195.22" width="8.1" height="79.58" fill="#fdfde0" stroke="#3a3a3a" stroke-width="0.65"/>
<rect x="204.82" y="190.5" width="8.1" height="4.72" fill="#90bff4" stroke="#3a3a3a" stroke-width="0.65"/>
<rect x="216.78" y="191.76" width="8.1" height="83.04" fill="#fdfde0" stroke="#3a3a3a" stroke-width="0.65"/>
<rect x="216.78" y="190.5" width="8.1" height="1.26" fill="#f8a042" stroke="#3a3a3a" stroke-width="0.65"/>
<rect x="228.75" y="190.5" width="8.1" height="84.3" fill="#fdfde0" stroke="#3a3a3a" stroke-width="0.65"/>
<rect x="240.71" y="192.44" width="8.1" height="82.36" fill="#fdfde0" stroke="#3a3a3a" stroke-width="0.65"/>
<rect x="240.71" y="190.5" width="8.1" height="1.94" fill="#90bff4" stroke="#3a3a3a" stroke-width="0.65"/>
<rect x="252.67" y="193.87" width="8.1" height="80.93" fill="#fdfde0" stroke="#3a3a3a" stroke-width="0.65"/>
<rect x="252.67" y="190.5" width="8.1" height="3.37" fill="#90bff4" stroke="#3a3a3a" stroke-width="0.65"/>
<rect x="264.64" y="192.94" width="8.1" height="81.86" fill="#fdfde0" stroke="#3a3a3a" stroke-width="0.65"/>
<rect x="264.64" y="190.5" width="8.1" height="2.44" fill="#90bff4" stroke="#3a3a3a" stroke-width="0.65"/>
<rect x="276.6" y="192.94" width="8.1" height="81.86" fill="#fdfde0" stroke="#3a3a3a" stroke-width="0.65"/>
<rect x="276.6" y="190.5" width="8.1" height="2.44" fill="#90bff4" stroke="#3a3a3a" stroke-width="0.65"/>
<rect x="288.57" y="190.5" width="8.1" height="84.3" fill="#fdfde0" stroke="#3a3a3a" stroke-width="0.65"/>
<rect x="300.53" y="192.44" width="8.1" height="82.36" fill="#fdfde0" stroke="#3a3a3a" stroke-width="0.65"/>
<rect x="300.53" y="190.5" width="8.1" height="1.94" fill="#90bff4" stroke="#3a3a3a" stroke-width="0.65"/>
<rect x="312.49" y="195.31" width="8.1" height="79.49" fill="#fdfde0" stroke="#3a3a3a" stroke-width="0.65"/>
<rect x="312.49" y="190.5" width="8.1" height="4.81" fill="#90bff4" stroke="#3a3a3a" stroke-width="0.65"/>
<rect x="324.46" y="193.37" width="8.1" height="81.43" fill="#fdfde0" stroke="#3a3a3a" stroke-width="0.65"/>
<rect x="324.46" y="190.5" width="8.1" height="2.87" fill="#90bff4" stroke="#3a3a3a" stroke-width="0.65"/>
<rect x="336.42" y="190.5" width="8.1" height="84.3" fill="#fdfde0" stroke="#3a3a3a" stroke-width="0.65"/>
<rect x="348.39" y="190.5" width="8.1" height="84.3" fill="#fdfde0" stroke="#3a3a3a" stroke-width="0.65"/>
<rect x="360.35" y="191.85" width="8.1" height="82.95" fill="#fdfde0" stroke="#3a3a3a" stroke-width="0.65"/>
<rect x="360.35" y="190.5" width="8.1" height="1.35" fill="#90bff4" stroke="#3a3a3a" stroke-width="0.65"/>
<rect x="61.25" y="274.8" width="8.1" height="72.66" fill="#fdfde0" stroke="#3a3a3a" stroke-width="0.65"/>
<rect x="61.25" y="347.46" width="8.1" height="11.24" fill="#f8a042" stroke="#3a3a3a" stroke-width="0.65"/>
<rect x="73.21" y="274.8" width="8.1" height="73.41" fill="#fdfde0" stroke="#3a3a3a" stroke-width="0.65"/>
<rect x="73.21" y="348.21" width="8.1" height="3.02" fill="#90bff4" stroke="#3a3a3a" stroke-width="0.65"/>
<rect x="73.21" y="351.23" width="8.1" height="5.2" fill="#f8a042" stroke="#3a3a3a" stroke-width="0.65"/>
<rect x="73.21" y="356.43" width="8.1" height="2.27" fill="#f4a8ec" stroke="#3a3a3a" stroke-width="0.65"/>
<rect x="85.18" y="274.8" width="8.1" height="82.56" fill="#fdfde0" stroke="#3a3a3a" stroke-width="0.65"/>
<rect x="85.18" y="357.36" width="8.1" height="1.34" fill="#f8a042" stroke="#3a3a3a" stroke-width="0.65"/>
<rect x="97.14" y="274.8" width="8.1" height="78.78" fill="#fdfde0" stroke="#3a3a3a" stroke-width="0.65"/>
<rect x="97.14" y="353.58" width="8.1" height="5.12" fill="#90bff4" stroke="#3a3a3a" stroke-width="0.65"/>
<rect x="109.11" y="274.8" width="8.1" height="72.07" fill="#fdfde0" stroke="#3a3a3a" stroke-width="0.65"/>
<rect x="109.11" y="346.87" width="8.1" height="7.63" fill="#90bff4" stroke="#3a3a3a" stroke-width="0.65"/>
<rect x="109.11" y="354.5" width="8.1" height="4.19" fill="#f8a042" stroke="#3a3a3a" stroke-width="0.65"/>
<rect x="121.07" y="274.8" width="8.1" height="80.63" fill="#fdfde0" stroke="#3a3a3a" stroke-width="0.65"/>
<rect x="121.07" y="355.43" width="8.1" height="3.27" fill="#90bff4" stroke="#3a3a3a" stroke-width="0.65"/>
<rect x="133.03" y="274.8" width="8.1" height="70.56" fill="#fdfde0" stroke="#3a3a3a" stroke-width="0.65"/>
<rect x="133.03" y="345.36" width="8.1" height="9.15" fill="#90bff4" stroke="#3a3a3a" stroke-width="0.65"/>
<rect x="133.03" y="354.5" width="8.1" height="4.19" fill="#f8a042" stroke="#3a3a3a" stroke-width="0.65"/>
<rect x="145" y="274.8" width="8.1" height="74.59" fill="#fdfde0" stroke="#3a3a3a" stroke-width="0.65"/>
<rect x="145" y="349.39" width="8.1" height="4.7" fill="#90bff4" stroke="#3a3a3a" stroke-width="0.65"/>
<rect x="145" y="354.09" width="8.1" height="2.35" fill="#f8a042" stroke="#3a3a3a" stroke-width="0.65"/>
<rect x="145" y="356.43" width="8.1" height="2.27" fill="#f4a8ec" stroke="#3a3a3a" stroke-width="0.65"/>
<rect x="156.96" y="274.8" width="8.1" height="78.78" fill="#fdfde0" stroke="#3a3a3a" stroke-width="0.65"/>
<rect x="156.96" y="353.58" width="8.1" height="3.78" fill="#90bff4" stroke="#3a3a3a" stroke-width="0.65"/>
<rect x="156.96" y="357.36" width="8.1" height="1.34" fill="#f8a042" stroke="#3a3a3a" stroke-width="0.65"/>
<rect x="168.93" y="274.8" width="8.1" height="64.44" fill="#fdfde0" stroke="#3a3a3a" stroke-width="0.65"/>
<rect x="168.93" y="339.24" width="8.1" height="10.15" fill="#90bff4" stroke="#3a3a3a" stroke-width="0.65"/>
<rect x="168.93" y="349.39" width="8.1" height="9.31" fill="#f8a042" stroke="#3a3a3a" stroke-width="0.65"/>
<rect x="180.89" y="274.8" width="8.1" height="72.99" fill="#fdfde0" stroke="#3a3a3a" stroke-width="0.65"/>
<rect x="180.89" y="347.79" width="8.1" height="7.63" fill="#90bff4" stroke="#3a3a3a" stroke-width="0.65"/>
<rect x="180.89" y="355.43" width="8.1" height="3.27" fill="#f8a042" stroke="#3a3a3a" stroke-width="0.65"/>
<rect x="192.85" y="274.8" width="8.1" height="75.34" fill="#fdfde0" stroke="#3a3a3a" stroke-width="0.65"/>
<rect x="192.85" y="350.14" width="8.1" height="8.56" fill="#90bff4" stroke="#3a3a3a" stroke-width="0.65"/>
<rect x="204.82" y="274.8" width="8.1" height="83.9" fill="#fdfde0" stroke="#3a3a3a" stroke-width="0.65"/>
<rect x="216.78" y="274.8" width="8.1" height="42.54" fill="#fdfde0" stroke="#3a3a3a" stroke-width="0.65"/>
<rect x="216.78" y="317.34" width="8.1" height="14.26" fill="#90bff4" stroke="#3a3a3a" stroke-width="0.65"/>
<rect x="216.78" y="331.6" width="8.1" height="13.93" fill="#f8a042" stroke="#3a3a3a" stroke-width="0.65"/>
<rect x="216.78" y="345.53" width="8.1" height="13.17" fill="#f4a8ec" stroke="#3a3a3a" stroke-width="0.65"/>
<rect x="228.75" y="274.8" width="8.1" height="70.73" fill="#fdfde0" stroke="#3a3a3a" stroke-width="0.65"/>
<rect x="228.75" y="345.53" width="8.1" height="10.91" fill="#90bff4" stroke="#3a3a3a" stroke-width="0.65"/>
<rect x="228.75" y="356.43" width="8.1" height="2.27" fill="#f8a042" stroke="#3a3a3a" stroke-width="0.65"/>
<rect x="240.71" y="274.8" width="8.1" height="81.22" fill="#fdfde0" stroke="#3a3a3a" stroke-width="0.65"/>
<rect x="240.71" y="356.02" width="8.1" height="2.68" fill="#f8a042" stroke="#3a3a3a" stroke-width="0.65"/>
<rect x="252.67" y="274.8" width="8.1" height="82.56" fill="#fdfde0" stroke="#3a3a3a" stroke-width="0.65"/>
<rect x="252.67" y="357.36" width="8.1" height="1.34" fill="#90bff4" stroke="#3a3a3a" stroke-width="0.65"/>
<rect x="264.64" y="274.8" width="8.1" height="80.63" fill="#fdfde0" stroke="#3a3a3a" stroke-width="0.65"/>
<rect x="264.64" y="355.43" width="8.1" height="3.27" fill="#90bff4" stroke="#3a3a3a" stroke-width="0.65"/>
<rect x="276.6" y="274.8" width="8.1" height="83.9" fill="#fdfde0" stroke="#3a3a3a" stroke-width="0.65"/>
<rect x="288.57" y="274.8" width="8.1" height="62.51" fill="#fdfde0" stroke="#3a3a3a" stroke-width="0.65"/>
<rect x="288.57" y="337.31" width="8.1" height="21.39" fill="#90bff4" stroke="#3a3a3a" stroke-width="0.65"/>
<rect x="300.53" y="274.8" width="8.1" height="75.85" fill="#fdfde0" stroke="#3a3a3a" stroke-width="0.65"/>
<rect x="300.53" y="350.65" width="8.1" height="8.05" fill="#90bff4" stroke="#3a3a3a" stroke-width="0.65"/>
<rect x="312.49" y="274.8" width="8.1" height="69.55" fill="#fdfde0" stroke="#3a3a3a" stroke-width="0.65"/>
<rect x="312.49" y="344.35" width="8.1" height="1.59" fill="#90bff4" stroke="#3a3a3a" stroke-width="0.65"/>
<rect x="312.49" y="345.95" width="8.1" height="12.75" fill="#f8a042" stroke="#3a3a3a" stroke-width="0.65"/>
<rect x="324.46" y="274.8" width="8.1" height="75.85" fill="#fdfde0" stroke="#3a3a3a" stroke-width="0.65"/>
<rect x="324.46" y="350.65" width="8.1" height="8.05" fill="#f8a042" stroke="#3a3a3a" stroke-width="0.65"/>
<rect x="336.42" y="274.8" width="8.1" height="83.9" fill="#fdfde0" stroke="#3a3a3a" stroke-width="0.65"/>
<rect x="348.39" y="274.8" width="8.1" height="83.9" fill="#fdfde0" stroke="#3a3a3a" stroke-width="0.65"/>
<rect x="360.35" y="274.8" width="8.1" height="83.9" fill="#fdfde0" stroke="#3a3a3a" stroke-width="0.65"/>
<path d="M59.25 190.5H370.5V358.7H59.25" fill="none" stroke="#8a8a8a" stroke-width="1"/>
<line x1="59.25" y1="190.5" x2="59.25" y2="358.7" stroke="#a0a0a0" stroke-width="1"/>
<line x1="56.85" y1="274.8" x2="59.25" y2="274.8" stroke="#a0a0a0" stroke-width="0.8"/>
<line x1="56.85" y1="274.8" x2="59.25" y2="274.8" stroke="#a0a0a0" stroke-width="0.8"/>
<line x1="56.85" y1="257.94" x2="59.25" y2="257.94" stroke="#a0a0a0" stroke-width="0.8"/>
<line x1="56.85" y1="291.58" x2="59.25" y2="291.58" stroke="#a0a0a0" stroke-width="0.8"/>
<line x1="56.85" y1="241.08" x2="59.25" y2="241.08" stroke="#a0a0a0" stroke-width="0.8"/>
<line x1="56.85" y1="308.36" x2="59.25" y2="308.36" stroke="#a0a0a0" stroke-width="0.8"/>
<line x1="56.85" y1="224.22" x2="59.25" y2="224.22" stroke="#a0a0a0" stroke-width="0.8"/>
<line x1="56.85" y1="325.14" x2="59.25" y2="325.14" stroke="#a0a0a0" stroke-width="0.8"/>
<line x1="56.85" y1="207.36" x2="59.25" y2="207.36" stroke="#a0a0a0" stroke-width="0.8"/>
<line x1="56.85" y1="341.92" x2="59.25" y2="341.92" stroke="#a0a0a0" stroke-width="0.8"/>
<line x1="56.85" y1="190.5" x2="59.25" y2="190.5" stroke="#a0a0a0" stroke-width="0.8"/>
<line x1="56.85" y1="358.7" x2="59.25" y2="358.7" stroke="#a0a0a0" stroke-width="0.8"/>
<text x="54.8" y="277.8" class="tk">0</text>
<text x="54.8" y="260.94" class="tk">20</text>
<text x="54.8" y="294.58" class="tk">20</text>
<text x="54.8" y="244.08" class="tk">40</text>
<text x="54.8" y="311.36" class="tk">40</text>
<text x="54.8" y="227.22" class="tk">60</text>
<text x="54.8" y="328.14" class="tk">60</text>
<text x="54.8" y="210.36" class="tk">80</text>
<text x="54.8" y="344.92" class="tk">80</text>
<text x="54.8" y="193.5" class="tk">100</text>
<text x="54.8" y="361.7" class="tk">100</text>
<line x1="65.3" y1="358.7" x2="65.3" y2="360.9" stroke="#a0a0a0" stroke-width="0.8"/>
<line x1="77.26" y1="358.7" x2="77.26" y2="360.9" stroke="#a0a0a0" stroke-width="0.8"/>
<line x1="89.23" y1="358.7" x2="89.23" y2="360.9" stroke="#a0a0a0" stroke-width="0.8"/>
<line x1="101.19" y1="358.7" x2="101.19" y2="360.9" stroke="#a0a0a0" stroke-width="0.8"/>
<line x1="113.16" y1="358.7" x2="113.16" y2="360.9" stroke="#a0a0a0" stroke-width="0.8"/>
<line x1="125.12" y1="358.7" x2="125.12" y2="360.9" stroke="#a0a0a0" stroke-width="0.8"/>
<line x1="137.08" y1="358.7" x2="137.08" y2="360.9" stroke="#a0a0a0" stroke-width="0.8"/>
<line x1="149.05" y1="358.7" x2="149.05" y2="360.9" stroke="#a0a0a0" stroke-width="0.8"/>
<line x1="161.01" y1="358.7" x2="161.01" y2="360.9" stroke="#a0a0a0" stroke-width="0.8"/>
<line x1="172.98" y1="358.7" x2="172.98" y2="360.9" stroke="#a0a0a0" stroke-width="0.8"/>
<line x1="184.94" y1="358.7" x2="184.94" y2="360.9" stroke="#a0a0a0" stroke-width="0.8"/>
<line x1="196.9" y1="358.7" x2="196.9" y2="360.9" stroke="#a0a0a0" stroke-width="0.8"/>
<line x1="208.87" y1="358.7" x2="208.87" y2="360.9" stroke="#a0a0a0" stroke-width="0.8"/>
<line x1="220.83" y1="358.7" x2="220.83" y2="360.9" stroke="#a0a0a0" stroke-width="0.8"/>
<line x1="232.8" y1="358.7" x2="232.8" y2="360.9" stroke="#a0a0a0" stroke-width="0.8"/>
<line x1="244.76" y1="358.7" x2="244.76" y2="360.9" stroke="#a0a0a0" stroke-width="0.8"/>
<line x1="256.72" y1="358.7" x2="256.72" y2="360.9" stroke="#a0a0a0" stroke-width="0.8"/>
<line x1="268.69" y1="358.7" x2="268.69" y2="360.9" stroke="#a0a0a0" stroke-width="0.8"/>
<line x1="280.65" y1="358.7" x2="280.65" y2="360.9" stroke="#a0a0a0" stroke-width="0.8"/>
<line x1="292.62" y1="358.7" x2="292.62" y2="360.9" stroke="#a0a0a0" stroke-width="0.8"/>
<line x1="304.58" y1="358.7" x2="304.58" y2="360.9" stroke="#a0a0a0" stroke-width="0.8"/>
<line x1="316.54" y1="358.7" x2="316.54" y2="360.9" stroke="#a0a0a0" stroke-width="0.8"/>
<line x1="328.51" y1="358.7" x2="328.51" y2="360.9" stroke="#a0a0a0" stroke-width="0.8"/>
<line x1="340.47" y1="358.7" x2="340.47" y2="360.9" stroke="#a0a0a0" stroke-width="0.8"/>
<line x1="352.44" y1="358.7" x2="352.44" y2="360.9" stroke="#a0a0a0" stroke-width="0.8"/>
<line x1="364.4" y1="358.7" x2="364.4" y2="360.9" stroke="#a0a0a0" stroke-width="0.8"/>
<text class="at" transform="translate(40.75,235.15) rotate(-90)">Surface water (%)</text>
<text class="at2" transform="translate(39.65,318.85) rotate(-90)">Sediment (%)</text>
<line x1="56.1" y1="453.6" x2="371.6" y2="453.6" stroke="#222222" stroke-width="1"/>
<rect x="60.55" y="388.16" width="8.1" height="65.44" fill="#ffffff" stroke="#3a3a3a" stroke-width="0.65"/>
<rect x="60.55" y="385.69" width="8.1" height="2.47" fill="#f94242" stroke="#3a3a3a" stroke-width="0.65"/>
<rect x="60.55" y="378.8" width="8.1" height="6.89" fill="#56a0f6" stroke="#3a3a3a" stroke-width="0.65"/>
<rect x="60.55" y="372.41" width="8.1" height="6.38" fill="#fbfc8c" stroke="#3a3a3a" stroke-width="0.65"/>
<rect x="60.55" y="369.69" width="8.1" height="2.72" fill="#000000" stroke="#3a3a3a" stroke-width="0.65"/>
<rect x="60.55" y="368.5" width="8.1" height="1.19" fill="#f048e6" stroke="#3a3a3a" stroke-width="0.65"/>
<rect x="72.58" y="388.16" width="8.1" height="65.44" fill="#ffffff" stroke="#3a3a3a" stroke-width="0.65"/>
<rect x="72.58" y="383.73" width="8.1" height="4.43" fill="#f94242" stroke="#3a3a3a" stroke-width="0.65"/>
<rect x="72.58" y="375.9" width="8.1" height="7.83" fill="#56a0f6" stroke="#3a3a3a" stroke-width="0.65"/>
<rect x="72.58" y="373.44" width="8.1" height="2.47" fill="#fbfc8c" stroke="#3a3a3a" stroke-width="0.65"/>
<rect x="72.58" y="370.46" width="8.1" height="2.98" fill="#000000" stroke="#3a3a3a" stroke-width="0.65"/>
<rect x="72.58" y="368.5" width="8.1" height="1.96" fill="#f048e6" stroke="#3a3a3a" stroke-width="0.65"/>
<rect x="84.62" y="388.67" width="8.1" height="64.93" fill="#ffffff" stroke="#3a3a3a" stroke-width="0.65"/>
<rect x="84.62" y="385.69" width="8.1" height="2.98" fill="#f94242" stroke="#3a3a3a" stroke-width="0.65"/>
<rect x="84.62" y="377.86" width="8.1" height="7.83" fill="#56a0f6" stroke="#3a3a3a" stroke-width="0.65"/>
<rect x="84.62" y="371.99" width="8.1" height="5.87" fill="#fbfc8c" stroke="#3a3a3a" stroke-width="0.65"/>
<rect x="84.62" y="369.52" width="8.1" height="2.47" fill="#000000" stroke="#3a3a3a" stroke-width="0.65"/>
<rect x="84.62" y="368.5" width="8.1" height="1.02" fill="#f048e6" stroke="#3a3a3a" stroke-width="0.65"/>
<rect x="96.66" y="374.46" width="8.1" height="79.14" fill="#ffffff" stroke="#3a3a3a" stroke-width="0.65"/>
<rect x="96.66" y="372.93" width="8.1" height="1.53" fill="#f94242" stroke="#3a3a3a" stroke-width="0.65"/>
<rect x="96.66" y="370.03" width="8.1" height="2.89" fill="#56a0f6" stroke="#3a3a3a" stroke-width="0.65"/>
<rect x="96.66" y="368.5" width="8.1" height="1.53" fill="#000000" stroke="#3a3a3a" stroke-width="0.65"/>
<rect x="108.69" y="386.37" width="8.1" height="67.23" fill="#ffffff" stroke="#3a3a3a" stroke-width="0.65"/>
<rect x="108.69" y="383.99" width="8.1" height="2.38" fill="#f94242" stroke="#3a3a3a" stroke-width="0.65"/>
<rect x="108.69" y="374.88" width="8.1" height="9.11" fill="#56a0f6" stroke="#3a3a3a" stroke-width="0.65"/>
<rect x="108.69" y="369.69" width="8.1" height="5.19" fill="#fbfc8c" stroke="#3a3a3a" stroke-width="0.65"/>
<rect x="108.69" y="368.5" width="8.1" height="1.19" fill="#000000" stroke="#3a3a3a" stroke-width="0.65"/>
<rect x="120.72" y="391.31" width="8.1" height="62.29" fill="#ffffff" stroke="#3a3a3a" stroke-width="0.65"/>
<rect x="120.72" y="387.39" width="8.1" height="3.91" fill="#f94242" stroke="#3a3a3a" stroke-width="0.65"/>
<rect x="120.72" y="376.58" width="8.1" height="10.81" fill="#56a0f6" stroke="#3a3a3a" stroke-width="0.65"/>
<rect x="120.72" y="370.03" width="8.1" height="6.55" fill="#fbfc8c" stroke="#3a3a3a" stroke-width="0.65"/>
<rect x="120.72" y="368.5" width="8.1" height="1.53" fill="#a0fa9c" stroke="#3a3a3a" stroke-width="0.65"/>
<rect x="132.76" y="385.01" width="8.1" height="68.59" fill="#ffffff" stroke="#3a3a3a" stroke-width="0.65"/>
<rect x="132.76" y="382.29" width="8.1" height="2.72" fill="#f94242" stroke="#3a3a3a" stroke-width="0.65"/>
<rect x="132.76" y="371.31" width="8.1" height="10.98" fill="#56a0f6" stroke="#3a3a3a" stroke-width="0.65"/>
<rect x="132.76" y="369.69" width="8.1" height="1.62" fill="#fbfc8c" stroke="#3a3a3a" stroke-width="0.65"/>
<rect x="132.76" y="368.5" width="8.1" height="1.19" fill="#000000" stroke="#3a3a3a" stroke-width="0.65"/>
<rect x="144.79" y="389.35" width="8.1" height="64.25" fill="#ffffff" stroke="#3a3a3a" stroke-width="0.65"/>
<rect x="144.79" y="387.14" width="8.1" height="2.21" fill="#f94242" stroke="#3a3a3a" stroke-width="0.65"/>
<rect x="144.79" y="377.86" width="8.1" height="9.28" fill="#56a0f6" stroke="#3a3a3a" stroke-width="0.65"/>
<rect x="144.79" y="372.67" width="8.1" height="5.19" fill="#fbfc8c" stroke="#3a3a3a" stroke-width="0.65"/>
<rect x="144.79" y="370.29" width="8.1" height="2.38" fill="#a0fa9c" stroke="#3a3a3a" stroke-width="0.65"/>
<rect x="144.79" y="368.5" width="8.1" height="1.79" fill="#000000" stroke="#3a3a3a" stroke-width="0.65"/>
<rect x="156.83" y="391.31" width="8.1" height="62.29" fill="#ffffff" stroke="#3a3a3a" stroke-width="0.65"/>
<rect x="156.83" y="372.67" width="8.1" height="18.64" fill="#56a0f6" stroke="#3a3a3a" stroke-width="0.65"/>
<rect x="156.83" y="370.71" width="8.1" height="1.96" fill="#a0fa9c" stroke="#3a3a3a" stroke-width="0.65"/>
<rect x="156.83" y="368.5" width="8.1" height="2.21" fill="#f048e6" stroke="#3a3a3a" stroke-width="0.65"/>
<rect x="168.86" y="376.16" width="8.1" height="77.44" fill="#ffffff" stroke="#3a3a3a" stroke-width="0.65"/>
<rect x="168.86" y="375.39" width="8.1" height="0.77" fill="#f94242" stroke="#3a3a3a" stroke-width="0.65"/>
<rect x="168.86" y="371.48" width="8.1" height="3.91" fill="#56a0f6" stroke="#3a3a3a" stroke-width="0.65"/>
<rect x="168.86" y="368.5" width="8.1" height="2.98" fill="#000000" stroke="#3a3a3a" stroke-width="0.65"/>
<rect x="180.9" y="386.37" width="8.1" height="67.23" fill="#ffffff" stroke="#3a3a3a" stroke-width="0.65"/>
<rect x="180.9" y="383.48" width="8.1" height="2.89" fill="#f94242" stroke="#3a3a3a" stroke-width="0.65"/>
<rect x="180.9" y="378.8" width="8.1" height="4.68" fill="#56a0f6" stroke="#3a3a3a" stroke-width="0.65"/>
<rect x="180.9" y="374.63" width="8.1" height="4.17" fill="#fbfc8c" stroke="#3a3a3a" stroke-width="0.65"/>
<rect x="180.9" y="370.03" width="8.1" height="4.6" fill="#000000" stroke="#3a3a3a" stroke-width="0.65"/>
<rect x="180.9" y="368.5" width="8.1" height="1.53" fill="#f048e6" stroke="#3a3a3a" stroke-width="0.65"/>
<rect x="192.93" y="383.05" width="8.1" height="70.55" fill="#ffffff" stroke="#3a3a3a" stroke-width="0.65"/>
<rect x="192.93" y="381.09" width="8.1" height="1.96" fill="#f94242" stroke="#3a3a3a" stroke-width="0.65"/>
<rect x="192.93" y="375.9" width="8.1" height="5.19" fill="#56a0f6" stroke="#3a3a3a" stroke-width="0.65"/>
<rect x="192.93" y="373.95" width="8.1" height="1.96" fill="#fbfc8c" stroke="#3a3a3a" stroke-width="0.65"/>
<rect x="192.93" y="369.69" width="8.1" height="4.26" fill="#000000" stroke="#3a3a3a" stroke-width="0.65"/>
<rect x="192.93" y="368.5" width="8.1" height="1.19" fill="#f048e6" stroke="#3a3a3a" stroke-width="0.65"/>
<rect x="204.97" y="392.58" width="8.1" height="61.02" fill="#ffffff" stroke="#3a3a3a" stroke-width="0.65"/>
<rect x="204.97" y="389.6" width="8.1" height="2.98" fill="#f94242" stroke="#3a3a3a" stroke-width="0.65"/>
<rect x="204.97" y="378.12" width="8.1" height="11.49" fill="#56a0f6" stroke="#3a3a3a" stroke-width="0.65"/>
<rect x="204.97" y="376.58" width="8.1" height="1.53" fill="#fbfc8c" stroke="#3a3a3a" stroke-width="0.65"/>
<rect x="204.97" y="370.46" width="8.1" height="6.13" fill="#000000" stroke="#3a3a3a" stroke-width="0.65"/>
<rect x="204.97" y="368.5" width="8.1" height="1.96" fill="#f048e6" stroke="#3a3a3a" stroke-width="0.65"/>
<rect x="217" y="376.16" width="8.1" height="77.44" fill="#ffffff" stroke="#3a3a3a" stroke-width="0.65"/>
<rect x="217" y="375.56" width="8.1" height="0.6" fill="#f94242" stroke="#3a3a3a" stroke-width="0.65"/>
<rect x="217" y="371.31" width="8.1" height="4.25" fill="#56a0f6" stroke="#3a3a3a" stroke-width="0.65"/>
<rect x="217" y="370.03" width="8.1" height="1.28" fill="#a0fa9c" stroke="#3a3a3a" stroke-width="0.65"/>
<rect x="217" y="368.5" width="8.1" height="1.53" fill="#000000" stroke="#3a3a3a" stroke-width="0.65"/>
<rect x="229.04" y="386.71" width="8.1" height="66.89" fill="#ffffff" stroke="#3a3a3a" stroke-width="0.65"/>
<rect x="229.04" y="384.75" width="8.1" height="1.96" fill="#f94242" stroke="#3a3a3a" stroke-width="0.65"/>
<rect x="229.04" y="375.9" width="8.1" height="8.85" fill="#56a0f6" stroke="#3a3a3a" stroke-width="0.65"/>
<rect x="229.04" y="373.95" width="8.1" height="1.96" fill="#fbfc8c" stroke="#3a3a3a" stroke-width="0.65"/>
<rect x="229.04" y="372.41" width="8.1" height="1.53" fill="#a0fa9c" stroke="#3a3a3a" stroke-width="0.65"/>
<rect x="229.04" y="368.5" width="8.1" height="3.91" fill="#000000" stroke="#3a3a3a" stroke-width="0.65"/>
<rect x="241.07" y="383.73" width="8.1" height="69.87" fill="#ffffff" stroke="#3a3a3a" stroke-width="0.65"/>
<rect x="241.07" y="382.46" width="8.1" height="1.28" fill="#f94242" stroke="#3a3a3a" stroke-width="0.65"/>
<rect x="241.07" y="373.27" width="8.1" height="9.19" fill="#56a0f6" stroke="#3a3a3a" stroke-width="0.65"/>
<rect x="241.07" y="371.31" width="8.1" height="1.96" fill="#fbfc8c" stroke="#3a3a3a" stroke-width="0.65"/>
<rect x="241.07" y="369.52" width="8.1" height="1.79" fill="#a0fa9c" stroke="#3a3a3a" stroke-width="0.65"/>
<rect x="241.07" y="368.5" width="8.1" height="1.02" fill="#000000" stroke="#3a3a3a" stroke-width="0.65"/>
<rect x="253.11" y="386.71" width="8.1" height="66.89" fill="#ffffff" stroke="#3a3a3a" stroke-width="0.65"/>
<rect x="253.11" y="384.24" width="8.1" height="2.47" fill="#f94242" stroke="#3a3a3a" stroke-width="0.65"/>
<rect x="253.11" y="378.8" width="8.1" height="5.45" fill="#56a0f6" stroke="#3a3a3a" stroke-width="0.65"/>
<rect x="253.11" y="373.61" width="8.1" height="5.19" fill="#fbfc8c" stroke="#3a3a3a" stroke-width="0.65"/>
<rect x="253.11" y="368.5" width="8.1" height="5.11" fill="#000000" stroke="#3a3a3a" stroke-width="0.65"/>
<rect x="265.14" y="379.14" width="8.1" height="74.46" fill="#ffffff" stroke="#3a3a3a" stroke-width="0.65"/>
<rect x="265.14" y="377.18" width="8.1" height="1.96" fill="#f94242" stroke="#3a3a3a" stroke-width="0.65"/>
<rect x="265.14" y="373.27" width="8.1" height="3.91" fill="#56a0f6" stroke="#3a3a3a" stroke-width="0.65"/>
<rect x="265.14" y="371.65" width="8.1" height="1.62" fill="#a0fa9c" stroke="#3a3a3a" stroke-width="0.65"/>
<rect x="265.14" y="368.5" width="8.1" height="3.15" fill="#000000" stroke="#3a3a3a" stroke-width="0.65"/>
<rect x="277.18" y="385.18" width="8.1" height="68.42" fill="#ffffff" stroke="#3a3a3a" stroke-width="0.65"/>
<rect x="277.18" y="383.48" width="8.1" height="1.7" fill="#f94242" stroke="#3a3a3a" stroke-width="0.65"/>
<rect x="277.18" y="373.61" width="8.1" height="9.87" fill="#56a0f6" stroke="#3a3a3a" stroke-width="0.65"/>
<rect x="277.18" y="371.99" width="8.1" height="1.62" fill="#a0fa9c" stroke="#3a3a3a" stroke-width="0.65"/>
<rect x="277.18" y="370.29" width="8.1" height="1.7" fill="#000000" stroke="#3a3a3a" stroke-width="0.65"/>
<rect x="277.18" y="368.5" width="8.1" height="1.79" fill="#f048e6" stroke="#3a3a3a" stroke-width="0.65"/>
<rect x="289.21" y="379.14" width="8.1" height="74.46" fill="#ffffff" stroke="#3a3a3a" stroke-width="0.65"/>
<rect x="289.21" y="377.18" width="8.1" height="1.96" fill="#f94242" stroke="#3a3a3a" stroke-width="0.65"/>
<rect x="289.21" y="372.93" width="8.1" height="4.25" fill="#56a0f6" stroke="#3a3a3a" stroke-width="0.65"/>
<rect x="289.21" y="370.71" width="8.1" height="2.21" fill="#a0fa9c" stroke="#3a3a3a" stroke-width="0.65"/>
<rect x="289.21" y="368.5" width="8.1" height="2.21" fill="#000000" stroke="#3a3a3a" stroke-width="0.65"/>
<rect x="301.25" y="382.29" width="8.1" height="71.31" fill="#ffffff" stroke="#3a3a3a" stroke-width="0.65"/>
<rect x="301.25" y="378.12" width="8.1" height="4.17" fill="#f94242" stroke="#3a3a3a" stroke-width="0.65"/>
<rect x="301.25" y="373.27" width="8.1" height="4.85" fill="#56a0f6" stroke="#3a3a3a" stroke-width="0.65"/>
<rect x="301.25" y="371.99" width="8.1" height="1.28" fill="#a0fa9c" stroke="#3a3a3a" stroke-width="0.65"/>
<rect x="301.25" y="369.78" width="8.1" height="2.21" fill="#000000" stroke="#3a3a3a" stroke-width="0.65"/>
<rect x="301.25" y="368.5" width="8.1" height="1.28" fill="#f048e6" stroke="#3a3a3a" stroke-width="0.65"/>
<rect x="313.29" y="387.39" width="8.1" height="66.21" fill="#ffffff" stroke="#3a3a3a" stroke-width="0.65"/>
<rect x="313.29" y="380.07" width="8.1" height="7.32" fill="#f94242" stroke="#3a3a3a" stroke-width="0.65"/>
<rect x="313.29" y="374.88" width="8.1" height="5.19" fill="#56a0f6" stroke="#3a3a3a" stroke-width="0.65"/>
<rect x="313.29" y="374.2" width="8.1" height="0.68" fill="#fbfc8c" stroke="#3a3a3a" stroke-width="0.65"/>
<rect x="313.29" y="368.5" width="8.1" height="5.7" fill="#a0fa9c" stroke="#3a3a3a" stroke-width="0.65"/>
<rect x="325.32" y="372.67" width="8.1" height="80.93" fill="#ffffff" stroke="#3a3a3a" stroke-width="0.65"/>
<rect x="325.32" y="371.31" width="8.1" height="1.36" fill="#56a0f6" stroke="#3a3a3a" stroke-width="0.65"/>
<rect x="325.32" y="368.5" width="8.1" height="2.81" fill="#fbfc8c" stroke="#3a3a3a" stroke-width="0.65"/>
<rect x="337.35" y="397.09" width="8.1" height="56.51" fill="#ffffff" stroke="#3a3a3a" stroke-width="0.65"/>
<rect x="337.35" y="387.65" width="8.1" height="9.45" fill="#f94242" stroke="#3a3a3a" stroke-width="0.65"/>
<rect x="337.35" y="378.12" width="8.1" height="9.53" fill="#000000" stroke="#3a3a3a" stroke-width="0.65"/>
<rect x="337.35" y="368.5" width="8.1" height="9.62" fill="#f048e6" stroke="#3a3a3a" stroke-width="0.65"/>
<rect x="349.39" y="383.05" width="8.1" height="70.55" fill="#ffffff" stroke="#3a3a3a" stroke-width="0.65"/>
<rect x="349.39" y="380.5" width="8.1" height="2.55" fill="#f94242" stroke="#3a3a3a" stroke-width="0.65"/>
<rect x="349.39" y="378.37" width="8.1" height="2.13" fill="#56a0f6" stroke="#3a3a3a" stroke-width="0.65"/>
<rect x="349.39" y="368.5" width="8.1" height="9.87" fill="#000000" stroke="#3a3a3a" stroke-width="0.65"/>
<rect x="361.43" y="386.97" width="8.1" height="66.63" fill="#ffffff" stroke="#3a3a3a" stroke-width="0.65"/>
<rect x="361.43" y="385.69" width="8.1" height="1.28" fill="#f94242" stroke="#3a3a3a" stroke-width="0.65"/>
<rect x="361.43" y="380.5" width="8.1" height="5.19" fill="#56a0f6" stroke="#3a3a3a" stroke-width="0.65"/>
<rect x="361.43" y="378.8" width="8.1" height="1.7" fill="#fbfc8c" stroke="#3a3a3a" stroke-width="0.65"/>
<rect x="361.43" y="370.03" width="8.1" height="8.77" fill="#000000" stroke="#3a3a3a" stroke-width="0.65"/>
<rect x="361.43" y="368.5" width="8.1" height="1.53" fill="#f048e6" stroke="#3a3a3a" stroke-width="0.65"/>
<rect x="60.55" y="453.6" width="8.1" height="66.83" fill="#ffffff" stroke="#3a3a3a" stroke-width="0.65"/>
<rect x="60.55" y="520.43" width="8.1" height="1.36" fill="#f94242" stroke="#3a3a3a" stroke-width="0.65"/>
<rect x="60.55" y="521.78" width="8.1" height="13.89" fill="#56a0f6" stroke="#3a3a3a" stroke-width="0.65"/>
<rect x="60.55" y="535.67" width="8.1" height="1.02" fill="#fbfc8c" stroke="#3a3a3a" stroke-width="0.65"/>
<rect x="60.55" y="536.69" width="8.1" height="1.61" fill="#a0fa9c" stroke="#3a3a3a" stroke-width="0.65"/>
<rect x="72.58" y="453.6" width="8.1" height="72.16" fill="#ffffff" stroke="#3a3a3a" stroke-width="0.65"/>
<rect x="72.58" y="525.76" width="8.1" height="1.27" fill="#f94242" stroke="#3a3a3a" stroke-width="0.65"/>
<rect x="72.58" y="527.03" width="8.1" height="7.79" fill="#56a0f6" stroke="#3a3a3a" stroke-width="0.65"/>
<rect x="72.58" y="534.83" width="8.1" height="1.19" fill="#a0fa9c" stroke="#3a3a3a" stroke-width="0.65"/>
<rect x="72.58" y="536.01" width="8.1" height="2.29" fill="#f048e6" stroke="#3a3a3a" stroke-width="0.65"/>
<rect x="84.62" y="453.6" width="8.1" height="55.48" fill="#ffffff" stroke="#3a3a3a" stroke-width="0.65"/>
<rect x="84.62" y="509.08" width="8.1" height="22.02" fill="#56a0f6" stroke="#3a3a3a" stroke-width="0.65"/>
<rect x="84.62" y="531.1" width="8.1" height="4.07" fill="#fbfc8c" stroke="#3a3a3a" stroke-width="0.65"/>
<rect x="84.62" y="535.17" width="8.1" height="3.13" fill="#000000" stroke="#3a3a3a" stroke-width="0.65"/>
<rect x="96.66" y="453.6" width="8.1" height="45.06" fill="#ffffff" stroke="#3a3a3a" stroke-width="0.65"/>
<rect x="96.66" y="498.66" width="8.1" height="2.8" fill="#f94242" stroke="#3a3a3a" stroke-width="0.65"/>
<rect x="96.66" y="501.46" width="8.1" height="26.17" fill="#56a0f6" stroke="#3a3a3a" stroke-width="0.65"/>
<rect x="96.66" y="527.63" width="8.1" height="5.51" fill="#fbfc8c" stroke="#3a3a3a" stroke-width="0.65"/>
<rect x="96.66" y="533.13" width="8.1" height="5.17" fill="#000000" stroke="#3a3a3a" stroke-width="0.65"/>
<rect x="108.69" y="453.6" width="8.1" height="84.7" fill="#ffffff" stroke="#3a3a3a" stroke-width="0.65"/>
<rect x="120.72" y="453.6" width="8.1" height="64.29" fill="#ffffff" stroke="#3a3a3a" stroke-width="0.65"/>
<rect x="120.72" y="517.89" width="8.1" height="11.01" fill="#56a0f6" stroke="#3a3a3a" stroke-width="0.65"/>
<rect x="120.72" y="528.9" width="8.1" height="2.37" fill="#fbfc8c" stroke="#3a3a3a" stroke-width="0.65"/>
<rect x="120.72" y="531.27" width="8.1" height="3.56" fill="#a0fa9c" stroke="#3a3a3a" stroke-width="0.65"/>
<rect x="120.72" y="534.83" width="8.1" height="3.47" fill="#000000" stroke="#3a3a3a" stroke-width="0.65"/>
<rect x="132.76" y="453.6" width="8.1" height="64.29" fill="#ffffff" stroke="#3a3a3a" stroke-width="0.65"/>
<rect x="132.76" y="517.89" width="8.1" height="11.69" fill="#56a0f6" stroke="#3a3a3a" stroke-width="0.65"/>
<rect x="132.76" y="529.58" width="8.1" height="1.69" fill="#fbfc8c" stroke="#3a3a3a" stroke-width="0.65"/>
<rect x="132.76" y="531.27" width="8.1" height="7.03" fill="#f048e6" stroke="#3a3a3a" stroke-width="0.65"/>
<rect x="144.79" y="453.6" width="8.1" height="70.39" fill="#ffffff" stroke="#3a3a3a" stroke-width="0.65"/>
<rect x="144.79" y="523.99" width="8.1" height="4.57" fill="#56a0f6" stroke="#3a3a3a" stroke-width="0.65"/>
<rect x="144.79" y="528.56" width="8.1" height="2.46" fill="#fbfc8c" stroke="#3a3a3a" stroke-width="0.65"/>
<rect x="144.79" y="531.02" width="8.1" height="2.54" fill="#a0fa9c" stroke="#3a3a3a" stroke-width="0.65"/>
<rect x="144.79" y="533.56" width="8.1" height="4.74" fill="#f048e6" stroke="#3a3a3a" stroke-width="0.65"/>
<rect x="156.83" y="453.6" width="8.1" height="59.29" fill="#ffffff" stroke="#3a3a3a" stroke-width="0.65"/>
<rect x="156.83" y="512.89" width="8.1" height="8.05" fill="#56a0f6" stroke="#3a3a3a" stroke-width="0.65"/>
<rect x="156.83" y="520.94" width="8.1" height="6.27" fill="#fbfc8c" stroke="#3a3a3a" stroke-width="0.65"/>
<rect x="156.83" y="527.2" width="8.1" height="2.88" fill="#a0fa9c" stroke="#3a3a3a" stroke-width="0.65"/>
<rect x="156.83" y="530.08" width="8.1" height="6.69" fill="#000000" stroke="#3a3a3a" stroke-width="0.65"/>
<rect x="156.83" y="536.78" width="8.1" height="1.52" fill="#f048e6" stroke="#3a3a3a" stroke-width="0.65"/>
<rect x="168.86" y="453.6" width="8.1" height="55.14" fill="#ffffff" stroke="#3a3a3a" stroke-width="0.65"/>
<rect x="168.86" y="508.74" width="8.1" height="19.82" fill="#f94242" stroke="#3a3a3a" stroke-width="0.65"/>
<rect x="168.86" y="528.56" width="8.1" height="9.74" fill="#56a0f6" stroke="#3a3a3a" stroke-width="0.65"/>
<rect x="180.9" y="453.6" width="8.1" height="55.48" fill="#ffffff" stroke="#3a3a3a" stroke-width="0.65"/>
<rect x="180.9" y="509.08" width="8.1" height="22.53" fill="#56a0f6" stroke="#3a3a3a" stroke-width="0.65"/>
<rect x="180.9" y="531.61" width="8.1" height="2.63" fill="#a0fa9c" stroke="#3a3a3a" stroke-width="0.65"/>
<rect x="180.9" y="534.23" width="8.1" height="4.07" fill="#f048e6" stroke="#3a3a3a" stroke-width="0.65"/>
<rect x="192.93" y="453.6" width="8.1" height="57.77" fill="#ffffff" stroke="#3a3a3a" stroke-width="0.65"/>
<rect x="192.93" y="511.37" width="8.1" height="26.93" fill="#56a0f6" stroke="#3a3a3a" stroke-width="0.65"/>
<rect x="204.97" y="453.6" width="8.1" height="60.31" fill="#ffffff" stroke="#3a3a3a" stroke-width="0.65"/>
<rect x="204.97" y="513.91" width="8.1" height="5.67" fill="#56a0f6" stroke="#3a3a3a" stroke-width="0.65"/>
<rect x="204.97" y="519.58" width="8.1" height="10.84" fill="#fbfc8c" stroke="#3a3a3a" stroke-width="0.65"/>
<rect x="204.97" y="530.42" width="8.1" height="5.34" fill="#000000" stroke="#3a3a3a" stroke-width="0.65"/>
<rect x="204.97" y="535.76" width="8.1" height="2.54" fill="#f048e6" stroke="#3a3a3a" stroke-width="0.65"/>
<rect x="217" y="453.6" width="8.1" height="69.79" fill="#ffffff" stroke="#3a3a3a" stroke-width="0.65"/>
<rect x="217" y="523.39" width="8.1" height="8.55" fill="#56a0f6" stroke="#3a3a3a" stroke-width="0.65"/>
<rect x="217" y="531.95" width="8.1" height="3.81" fill="#000000" stroke="#3a3a3a" stroke-width="0.65"/>
<rect x="217" y="535.76" width="8.1" height="2.54" fill="#f048e6" stroke="#3a3a3a" stroke-width="0.65"/>
<rect x="229.04" y="453.6" width="8.1" height="58.36" fill="#ffffff" stroke="#3a3a3a" stroke-width="0.65"/>
<rect x="229.04" y="511.96" width="8.1" height="5.76" fill="#56a0f6" stroke="#3a3a3a" stroke-width="0.65"/>
<rect x="229.04" y="517.72" width="8.1" height="2.46" fill="#fbfc8c" stroke="#3a3a3a" stroke-width="0.65"/>
<rect x="229.04" y="520.17" width="8.1" height="7.96" fill="#000000" stroke="#3a3a3a" stroke-width="0.65"/>
<rect x="229.04" y="528.14" width="8.1" height="10.16" fill="#f048e6" stroke="#3a3a3a" stroke-width="0.65"/>
<rect x="241.07" y="453.6" width="8.1" height="66.91" fill="#ffffff" stroke="#3a3a3a" stroke-width="0.65"/>
<rect x="241.07" y="520.51" width="8.1" height="8.05" fill="#56a0f6" stroke="#3a3a3a" stroke-width="0.65"/>
<rect x="241.07" y="528.56" width="8.1" height="4.4" fill="#fbfc8c" stroke="#3a3a3a" stroke-width="0.65"/>
<rect x="241.07" y="532.96" width="8.1" height="2.8" fill="#000000" stroke="#3a3a3a" stroke-width="0.65"/>
<rect x="241.07" y="535.76" width="8.1" height="2.54" fill="#f048e6" stroke="#3a3a3a" stroke-width="0.65"/>
<rect x="253.11" y="453.6" width="8.1" height="57.43" fill="#ffffff" stroke="#3a3a3a" stroke-width="0.65"/>
<rect x="253.11" y="511.03" width="8.1" height="1.52" fill="#f94242" stroke="#3a3a3a" stroke-width="0.65"/>
<rect x="253.11" y="512.55" width="8.1" height="8.39" fill="#56a0f6" stroke="#3a3a3a" stroke-width="0.65"/>
<rect x="253.11" y="520.94" width="8.1" height="2.46" fill="#fbfc8c" stroke="#3a3a3a" stroke-width="0.65"/>
<rect x="253.11" y="523.39" width="8.1" height="9.57" fill="#000000" stroke="#3a3a3a" stroke-width="0.65"/>
<rect x="253.11" y="532.96" width="8.1" height="5.34" fill="#f048e6" stroke="#3a3a3a" stroke-width="0.65"/>
<rect x="265.14" y="453.6" width="8.1" height="54.55" fill="#ffffff" stroke="#3a3a3a" stroke-width="0.65"/>
<rect x="265.14" y="508.15" width="8.1" height="21.51" fill="#56a0f6" stroke="#3a3a3a" stroke-width="0.65"/>
<rect x="265.14" y="529.66" width="8.1" height="2.71" fill="#fbfc8c" stroke="#3a3a3a" stroke-width="0.65"/>
<rect x="265.14" y="532.37" width="8.1" height="5.93" fill="#f048e6" stroke="#3a3a3a" stroke-width="0.65"/>
<rect x="277.18" y="453.6" width="8.1" height="57.77" fill="#ffffff" stroke="#3a3a3a" stroke-width="0.65"/>
<rect x="277.18" y="511.37" width="8.1" height="5.34" fill="#56a0f6" stroke="#3a3a3a" stroke-width="0.65"/>
<rect x="277.18" y="516.7" width="8.1" height="4.24" fill="#fbfc8c" stroke="#3a3a3a" stroke-width="0.65"/>
<rect x="277.18" y="520.94" width="8.1" height="12.96" fill="#000000" stroke="#3a3a3a" stroke-width="0.65"/>
<rect x="277.18" y="533.9" width="8.1" height="4.4" fill="#f048e6" stroke="#3a3a3a" stroke-width="0.65"/>
<rect x="289.21" y="453.6" width="8.1" height="50.74" fill="#ffffff" stroke="#3a3a3a" stroke-width="0.65"/>
<rect x="289.21" y="504.34" width="8.1" height="21.51" fill="#56a0f6" stroke="#3a3a3a" stroke-width="0.65"/>
<rect x="289.21" y="525.85" width="8.1" height="3.81" fill="#fbfc8c" stroke="#3a3a3a" stroke-width="0.65"/>
<rect x="289.21" y="529.66" width="8.1" height="4.24" fill="#000000" stroke="#3a3a3a" stroke-width="0.65"/>
<rect x="289.21" y="533.9" width="8.1" height="4.4" fill="#f048e6" stroke="#3a3a3a" stroke-width="0.65"/>
<rect x="301.25" y="453.6" width="8.1" height="52.68" fill="#ffffff" stroke="#3a3a3a" stroke-width="0.65"/>
<rect x="301.25" y="506.28" width="8.1" height="12.37" fill="#56a0f6" stroke="#3a3a3a" stroke-width="0.65"/>
<rect x="301.25" y="518.65" width="8.1" height="7.96" fill="#fbfc8c" stroke="#3a3a3a" stroke-width="0.65"/>
<rect x="301.25" y="526.61" width="8.1" height="3.47" fill="#a0fa9c" stroke="#3a3a3a" stroke-width="0.65"/>
<rect x="301.25" y="530.08" width="8.1" height="4.15" fill="#000000" stroke="#3a3a3a" stroke-width="0.65"/>
<rect x="301.25" y="534.23" width="8.1" height="4.07" fill="#f048e6" stroke="#3a3a3a" stroke-width="0.65"/>
<rect x="313.29" y="453.6" width="8.1" height="52.68" fill="#ffffff" stroke="#3a3a3a" stroke-width="0.65"/>
<rect x="313.29" y="506.28" width="8.1" height="1.27" fill="#f94242" stroke="#3a3a3a" stroke-width="0.65"/>
<rect x="313.29" y="507.55" width="8.1" height="12.03" fill="#56a0f6" stroke="#3a3a3a" stroke-width="0.65"/>
<rect x="313.29" y="519.58" width="8.1" height="8.55" fill="#fbfc8c" stroke="#3a3a3a" stroke-width="0.65"/>
<rect x="313.29" y="528.14" width="8.1" height="4.4" fill="#a0fa9c" stroke="#3a3a3a" stroke-width="0.65"/>
<rect x="313.29" y="532.54" width="8.1" height="5.76" fill="#000000" stroke="#3a3a3a" stroke-width="0.65"/>
<rect x="325.32" y="453.6" width="8.1" height="41.16" fill="#ffffff" stroke="#3a3a3a" stroke-width="0.65"/>
<rect x="325.32" y="494.76" width="8.1" height="2.54" fill="#f94242" stroke="#3a3a3a" stroke-width="0.65"/>
<rect x="325.32" y="497.31" width="8.1" height="16.6" fill="#56a0f6" stroke="#3a3a3a" stroke-width="0.65"/>
<rect x="325.32" y="513.91" width="8.1" height="5.08" fill="#fbfc8c" stroke="#3a3a3a" stroke-width="0.65"/>
<rect x="325.32" y="518.99" width="8.1" height="5.76" fill="#a0fa9c" stroke="#3a3a3a" stroke-width="0.65"/>
<rect x="325.32" y="524.75" width="8.1" height="5.67" fill="#000000" stroke="#3a3a3a" stroke-width="0.65"/>
<rect x="325.32" y="530.42" width="8.1" height="7.88" fill="#f048e6" stroke="#3a3a3a" stroke-width="0.65"/>
<rect x="337.35" y="453.6" width="8.1" height="40.66" fill="#ffffff" stroke="#3a3a3a" stroke-width="0.65"/>
<rect x="337.35" y="494.26" width="8.1" height="3.81" fill="#f94242" stroke="#3a3a3a" stroke-width="0.65"/>
<rect x="337.35" y="498.07" width="8.1" height="12.54" fill="#56a0f6" stroke="#3a3a3a" stroke-width="0.65"/>
<rect x="337.35" y="510.6" width="8.1" height="3.81" fill="#fbfc8c" stroke="#3a3a3a" stroke-width="0.65"/>
<rect x="337.35" y="514.41" width="8.1" height="15.67" fill="#a0fa9c" stroke="#3a3a3a" stroke-width="0.65"/>
<rect x="337.35" y="530.08" width="8.1" height="8.22" fill="#f048e6" stroke="#3a3a3a" stroke-width="0.65"/>
<rect x="349.39" y="453.6" width="8.1" height="75.55" fill="#ffffff" stroke="#3a3a3a" stroke-width="0.65"/>
<rect x="349.39" y="529.15" width="8.1" height="4.4" fill="#56a0f6" stroke="#3a3a3a" stroke-width="0.65"/>
<rect x="349.39" y="533.56" width="8.1" height="4.74" fill="#fbfc8c" stroke="#3a3a3a" stroke-width="0.65"/>
<rect x="361.43" y="453.6" width="8.1" height="61.58" fill="#ffffff" stroke="#3a3a3a" stroke-width="0.65"/>
<rect x="361.43" y="515.18" width="8.1" height="10.67" fill="#56a0f6" stroke="#3a3a3a" stroke-width="0.65"/>
<rect x="361.43" y="525.85" width="8.1" height="2.71" fill="#fbfc8c" stroke="#3a3a3a" stroke-width="0.65"/>
<rect x="361.43" y="528.56" width="8.1" height="9.74" fill="#000000" stroke="#3a3a3a" stroke-width="0.65"/>
<path d="M58.5 368.5H371.6V538.3H58.5" fill="none" stroke="#555555" stroke-width="1"/>
<line x1="58.5" y1="368.5" x2="58.5" y2="538.3" stroke="#222222" stroke-width="1"/>
<line x1="56.7" y1="453.6" x2="58.5" y2="453.6" stroke="#222222" stroke-width="0.8"/>
<line x1="56.7" y1="453.6" x2="58.5" y2="453.6" stroke="#222222" stroke-width="0.8"/>
<line x1="56.7" y1="436.58" x2="58.5" y2="436.58" stroke="#222222" stroke-width="0.8"/>
<line x1="56.7" y1="470.54" x2="58.5" y2="470.54" stroke="#222222" stroke-width="0.8"/>
<line x1="56.7" y1="419.56" x2="58.5" y2="419.56" stroke="#222222" stroke-width="0.8"/>
<line x1="56.7" y1="487.48" x2="58.5" y2="487.48" stroke="#222222" stroke-width="0.8"/>
<line x1="56.7" y1="402.54" x2="58.5" y2="402.54" stroke="#222222" stroke-width="0.8"/>
<line x1="56.7" y1="504.42" x2="58.5" y2="504.42" stroke="#222222" stroke-width="0.8"/>
<line x1="56.7" y1="385.52" x2="58.5" y2="385.52" stroke="#222222" stroke-width="0.8"/>
<line x1="56.7" y1="521.36" x2="58.5" y2="521.36" stroke="#222222" stroke-width="0.8"/>
<line x1="56.7" y1="368.5" x2="58.5" y2="368.5" stroke="#222222" stroke-width="0.8"/>
<line x1="56.7" y1="538.3" x2="58.5" y2="538.3" stroke="#222222" stroke-width="0.8"/>
<text x="55" y="457" class="tk">0</text>
<text x="55" y="439.98" class="tk">20</text>
<text x="55" y="473.94" class="tk">20</text>
<text x="55" y="422.96" class="tk">40</text>
<text x="55" y="490.88" class="tk">40</text>
<text x="55" y="405.94" class="tk">60</text>
<text x="55" y="507.82" class="tk">60</text>
<text x="55" y="388.92" class="tk">80</text>
<text x="55" y="524.76" class="tk">80</text>
<text x="55" y="371.9" class="tk">100</text>
<text x="55" y="541.7" class="tk">100</text>
<line x1="64.6" y1="538.3" x2="64.6" y2="540.5" stroke="#222222" stroke-width="0.8"/>
<line x1="76.63" y1="538.3" x2="76.63" y2="540.5" stroke="#222222" stroke-width="0.8"/>
<line x1="88.67" y1="538.3" x2="88.67" y2="540.5" stroke="#222222" stroke-width="0.8"/>
<line x1="100.7" y1="538.3" x2="100.7" y2="540.5" stroke="#222222" stroke-width="0.8"/>
<line x1="112.74" y1="538.3" x2="112.74" y2="540.5" stroke="#222222" stroke-width="0.8"/>
<line x1="124.77" y1="538.3" x2="124.77" y2="540.5" stroke="#222222" stroke-width="0.8"/>
<line x1="136.81" y1="538.3" x2="136.81" y2="540.5" stroke="#222222" stroke-width="0.8"/>
<line x1="148.84" y1="538.3" x2="148.84" y2="540.5" stroke="#222222" stroke-width="0.8"/>
<line x1="160.88" y1="538.3" x2="160.88" y2="540.5" stroke="#222222" stroke-width="0.8"/>
<line x1="172.91" y1="538.3" x2="172.91" y2="540.5" stroke="#222222" stroke-width="0.8"/>
<line x1="184.95" y1="538.3" x2="184.95" y2="540.5" stroke="#222222" stroke-width="0.8"/>
<line x1="196.98" y1="538.3" x2="196.98" y2="540.5" stroke="#222222" stroke-width="0.8"/>
<line x1="209.02" y1="538.3" x2="209.02" y2="540.5" stroke="#222222" stroke-width="0.8"/>
<line x1="221.06" y1="538.3" x2="221.06" y2="540.5" stroke="#222222" stroke-width="0.8"/>
<line x1="233.09" y1="538.3" x2="233.09" y2="540.5" stroke="#222222" stroke-width="0.8"/>
<line x1="245.12" y1="538.3" x2="245.12" y2="540.5" stroke="#222222" stroke-width="0.8"/>
<line x1="257.16" y1="538.3" x2="257.16" y2="540.5" stroke="#222222" stroke-width="0.8"/>
<line x1="269.19" y1="538.3" x2="269.19" y2="540.5" stroke="#222222" stroke-width="0.8"/>
<line x1="281.23" y1="538.3" x2="281.23" y2="540.5" stroke="#222222" stroke-width="0.8"/>
<line x1="293.26" y1="538.3" x2="293.26" y2="540.5" stroke="#222222" stroke-width="0.8"/>
<line x1="305.3" y1="538.3" x2="305.3" y2="540.5" stroke="#222222" stroke-width="0.8"/>
<line x1="317.34" y1="538.3" x2="317.34" y2="540.5" stroke="#222222" stroke-width="0.8"/>
<line x1="329.37" y1="538.3" x2="329.37" y2="540.5" stroke="#222222" stroke-width="0.8"/>
<line x1="341.4" y1="538.3" x2="341.4" y2="540.5" stroke="#222222" stroke-width="0.8"/>
<line x1="353.44" y1="538.3" x2="353.44" y2="540.5" stroke="#222222" stroke-width="0.8"/>
<line x1="365.48" y1="538.3" x2="365.48" y2="540.5" stroke="#222222" stroke-width="0.8"/>
<text class="at" transform="translate(40.05,407.15) rotate(-90)">Surface water (%)</text>
<text class="at2" transform="translate(39.35,497.25) rotate(-90)">Sediment (%)</text>
<text class="pl" x="12.5" y="103">A</text>
<text class="pl" x="13.9" y="280.5">B</text>
<text class="pl" x="15" y="460">C</text>
<text class="xl" x="64.9" y="545.3">S1</text>
<text class="xl" x="76.93" y="545.3">S2</text>
<text class="xl" x="88.97" y="545.3">S3</text>
<text class="xl" x="101" y="545.3">S4</text>
<text class="xl" x="113.04" y="545.3">S5</text>
<text class="xl" x="125.07" y="545.3">S6</text>
<text class="xl" x="137.11" y="545.3">S7</text>
<text class="xl" x="149.15" y="545.3">S8</text>
<text class="xl" x="161.18" y="545.3">S9</text>
<text class="xl" x="173.22" y="545.3">S10</text>
<text class="xl" x="185.25" y="545.3">S11</text>
<text class="xl" x="197.28" y="545.3">S12</text>
<text class="xl" x="209.32" y="545.3">S13</text>
<text class="xl" x="221.36" y="545.3">S14</text>
<text class="xl" x="233.39" y="545.3">S15</text>
<text class="xl" x="245.43" y="545.3">S16</text>
<text class="xl" x="257.46" y="545.3">S17</text>
<text class="xl" x="269.5" y="545.3">S18</text>
<text class="xl" x="281.53" y="545.3">S19</text>
<text class="xl" x="293.56" y="545.3">S20</text>
<text class="xl" x="305.6" y="545.3">S21</text>
<text class="xl" x="317.64" y="545.3">S22</text>
<text class="xl" x="329.67" y="545.3">D1</text>
<text class="xl" x="341.7" y="545.3">D2</text>
<text class="xl" x="353.74" y="545.3">D3</text>
<text class="xl" x="365.78" y="545.3">D4</text>
<rect x="377.6" y="65.8" width="9" height="6.8" fill="#f048e6" stroke="#555" stroke-width="0.8"/>
<text class="lg" x="392.8" y="72.4">4-5mm</text>
<rect x="377.6" y="76.8" width="9" height="6.8" fill="#f4424a" stroke="#555" stroke-width="0.8"/>
<text class="lg" x="392.8" y="83.4">3-4mm</text>
<rect x="377.6" y="87.8" width="9" height="6.8" fill="#529ef6" stroke="#555" stroke-width="0.8"/>
<text class="lg" x="392.8" y="94.4">2-3mm</text>
<rect x="377.6" y="98.8" width="9" height="6.8" fill="#f9a142" stroke="#555" stroke-width="0.8"/>
<text class="lg" x="392.8" y="105.4">1-2mm</text>
<rect x="377.6" y="109.8" width="9" height="6.8" fill="#fbfc9c" stroke="#555" stroke-width="0.8"/>
<text class="lg" x="392.8" y="116.4">0.5-1mm</text>
<rect x="377.6" y="120.8" width="9" height="6.8" fill="#a6faa0" stroke="#555" stroke-width="0.8"/>
<text class="lg" x="392.8" y="127.4">&lt;0.5mm</text>
<rect x="377.6" y="253.2" width="9" height="6.8" fill="#f4a8ec" stroke="#555" stroke-width="0.8"/>
<text class="lg" x="392.8" y="259.8">Pellet</text>
<rect x="377.6" y="265.7" width="9" height="6.8" fill="#f8a042" stroke="#555" stroke-width="0.8"/>
<text class="lg" x="392.8" y="272.3">Fragment</text>
<rect x="377.6" y="278.2" width="9" height="6.8" fill="#90bff4" stroke="#555" stroke-width="0.8"/>
<text class="lg" x="392.8" y="284.8">Film</text>
<rect x="377.6" y="290.7" width="9" height="6.8" fill="#fdfde0" stroke="#555" stroke-width="0.8"/>
<text class="lg" x="392.8" y="297.3">Fiber</text>
<rect x="378.6" y="413.4" width="9.8" height="6.6" fill="#f048e6" stroke="#555" stroke-width="0.8"/>
<text class="lg3" x="393.4" y="419.9">Others</text>
<rect x="378.6" y="423.77" width="9.8" height="6.6" fill="#000000" stroke="#555" stroke-width="0.8"/>
<text class="lg3" x="393.4" y="430.27">Black</text>
<rect x="378.6" y="434.14" width="9.8" height="6.6" fill="#a0fa9c" stroke="#555" stroke-width="0.8"/>
<text class="lg3" x="393.4" y="440.64">Green</text>
<rect x="378.6" y="444.51" width="9.8" height="6.6" fill="#fbfc8c" stroke="#555" stroke-width="0.8"/>
<text class="lg3" x="393.4" y="451.01">Y&#8201;ellow</text>
<rect x="378.6" y="454.88" width="9.8" height="6.6" fill="#56a0f6" stroke="#555" stroke-width="0.8"/>
<text class="lg3" x="393.4" y="461.38">Blue</text>
<rect x="378.6" y="465.25" width="9.8" height="6.6" fill="#f94242" stroke="#555" stroke-width="0.8"/>
<text class="lg3" x="393.4" y="471.75">Red</text>
<rect x="378.6" y="475.62" width="9.8" height="6.6" fill="#ffffff" stroke="#555" stroke-width="0.8"/>
<text class="lg3" x="393.4" y="482.12">Transparent</text>
</svg>
</body></html>
